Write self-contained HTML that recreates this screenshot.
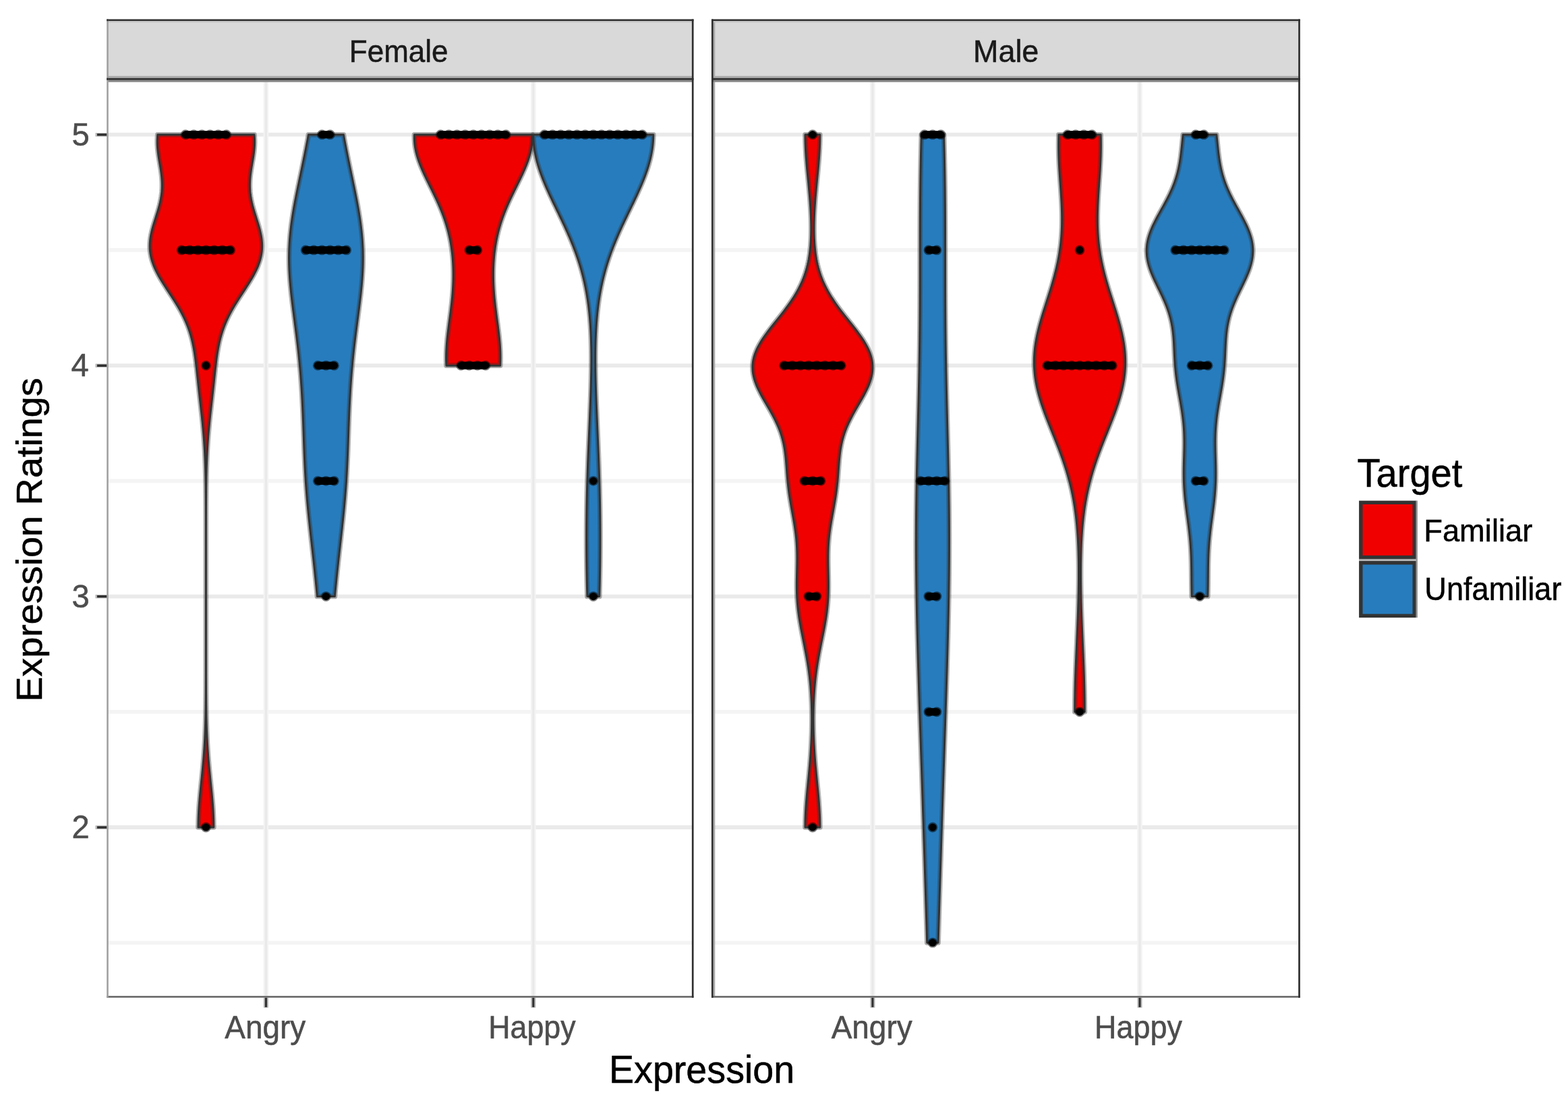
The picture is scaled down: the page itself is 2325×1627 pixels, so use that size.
<!DOCTYPE html>
<html><head><meta charset="utf-8"><title>Expression Ratings by Target</title>
<style>
html,body{margin:0;padding:0;background:#fff;}
body{width:2325px;height:1627px;overflow:hidden;}
svg{display:block;}
text{font-family:"Liberation Sans",Arial,Helvetica,sans-serif;}
</style></head><body>
<svg width="2325" height="1627" viewBox="0 0 2325 1627">
<rect width="2325" height="1627" fill="#fff"/>
<g fill="none">
<rect x="159.50" y="29.90" width="867.70" height="87.30" fill="#d9d9d9"/>
<path d="M159.50 1398.21H1027.20" stroke="#f4f4f4" stroke-width="5.60"/>
<path d="M159.50 1055.78H1027.20" stroke="#f4f4f4" stroke-width="5.60"/>
<path d="M159.50 713.35H1027.20" stroke="#f4f4f4" stroke-width="5.60"/>
<path d="M159.50 370.91H1027.20" stroke="#f4f4f4" stroke-width="5.60"/>
<path d="M159.50 1226.99H1027.20" stroke="#eaeaea" stroke-width="5.80"/>
<path d="M159.50 884.56H1027.20" stroke="#eaeaea" stroke-width="5.80"/>
<path d="M159.50 542.13H1027.20" stroke="#eaeaea" stroke-width="5.80"/>
<path d="M159.50 199.70H1027.20" stroke="#eaeaea" stroke-width="5.80"/>
<path d="M394.40 117.20V1478.40" stroke="#f3f3f3" stroke-width="7.50"/>
<path d="M394.40 117.20V1478.40" stroke="#e9e9e9" stroke-width="3.20"/>
<path d="M790.80 117.20V1478.40" stroke="#f3f3f3" stroke-width="7.50"/>
<path d="M790.80 117.20V1478.40" stroke="#e9e9e9" stroke-width="3.20"/>
<defs><path id="vFAF" d="M293.97,1226.99 L293.99,1222.96 L294.05,1218.93 L294.15,1214.90 L294.30,1210.88 L294.48,1206.85 L294.69,1202.82 L294.94,1198.79 L295.22,1194.76 L295.53,1190.73 L295.87,1186.70 L296.22,1182.68 L296.60,1178.65 L296.99,1174.62 L297.39,1170.59 L297.80,1166.56 L298.21,1162.53 L298.63,1158.50 L299.05,1154.48 L299.46,1150.45 L299.86,1146.42 L300.26,1142.39 L300.65,1138.36 L301.02,1134.33 L301.38,1130.30 L301.72,1126.28 L302.04,1122.25 L302.35,1118.22 L302.64,1114.19 L302.91,1110.16 L303.16,1106.13 L303.40,1102.10 L303.61,1098.08 L303.81,1094.05 L303.99,1090.02 L304.16,1085.99 L304.31,1081.96 L304.44,1077.93 L304.57,1073.90 L304.67,1069.88 L304.77,1065.85 L304.86,1061.82 L304.93,1057.79 L305.00,1053.76 L305.06,1049.73 L305.11,1045.70 L305.15,1041.67 L305.19,1037.65 L305.22,1033.62 L305.25,1029.59 L305.28,1025.56 L305.30,1021.53 L305.32,1017.50 L305.33,1013.47 L305.34,1009.45 L305.35,1005.42 L305.36,1001.39 L305.37,997.36 L305.37,993.33 L305.38,989.30 L305.38,985.27 L305.39,981.25 L305.39,977.22 L305.39,973.19 L305.39,969.16 L305.39,965.13 L305.40,961.10 L305.40,957.07 L305.40,953.05 L305.40,949.02 L305.40,944.99 L305.40,940.96 L305.40,936.93 L305.40,932.90 L305.40,928.87 L305.40,924.85 L305.40,920.82 L305.40,916.79 L305.40,912.76 L305.40,908.73 L305.40,904.70 L305.40,900.67 L305.40,896.65 L305.40,892.62 L305.40,888.59 L305.40,884.56 L305.40,880.53 L305.40,876.50 L305.40,872.47 L305.40,868.45 L305.40,864.42 L305.40,860.39 L305.40,856.36 L305.40,852.33 L305.40,848.30 L305.40,844.27 L305.40,840.25 L305.40,836.22 L305.40,832.19 L305.40,828.16 L305.40,824.13 L305.40,820.10 L305.40,816.07 L305.40,812.05 L305.40,808.02 L305.39,803.99 L305.39,799.96 L305.39,795.93 L305.39,791.90 L305.39,787.87 L305.38,783.85 L305.38,779.82 L305.37,775.79 L305.37,771.76 L305.36,767.73 L305.35,763.70 L305.34,759.67 L305.33,755.65 L305.32,751.62 L305.30,747.59 L305.28,743.56 L305.25,739.53 L305.22,735.50 L305.19,731.47 L305.15,727.45 L305.11,723.42 L305.06,719.39 L305.00,715.36 L304.93,711.33 L304.86,707.30 L304.77,703.27 L304.67,699.24 L304.57,695.22 L304.44,691.19 L304.31,687.16 L304.16,683.13 L303.99,679.10 L303.81,675.07 L303.61,671.04 L303.39,667.02 L303.16,662.99 L302.90,658.96 L302.63,654.93 L302.34,650.90 L302.03,646.87 L301.70,642.84 L301.35,638.82 L300.99,634.79 L300.60,630.76 L300.21,626.73 L299.80,622.70 L299.38,618.67 L298.94,614.64 L298.50,610.62 L298.05,606.59 L297.60,602.56 L297.14,598.53 L296.69,594.50 L296.23,590.47 L295.77,586.44 L295.32,582.42 L294.88,578.39 L294.44,574.36 L294.00,570.33 L293.57,566.30 L293.14,562.27 L292.71,558.24 L292.28,554.22 L291.84,550.19 L291.40,546.16 L290.94,542.13 L290.46,538.10 L289.96,534.07 L289.43,530.04 L288.85,526.02 L288.22,521.99 L287.54,517.96 L286.79,513.93 L285.97,509.90 L285.07,505.87 L284.07,501.84 L282.98,497.82 L281.77,493.79 L280.46,489.76 L279.03,485.73 L277.48,481.70 L275.80,477.67 L274.00,473.64 L272.08,469.62 L270.03,465.59 L267.87,461.56 L265.61,457.53 L263.25,453.50 L260.80,449.47 L258.27,445.44 L255.69,441.42 L253.08,437.39 L250.44,433.36 L247.80,429.33 L245.18,425.30 L242.60,421.27 L240.10,417.24 L237.68,413.22 L235.37,409.19 L233.19,405.16 L231.17,401.13 L229.32,397.10 L227.65,393.07 L226.19,389.04 L224.94,385.02 L223.92,380.99 L223.12,376.96 L222.56,372.93 L222.22,368.90 L222.12,364.87 L222.23,360.84 L222.55,356.81 L223.06,352.79 L223.75,348.76 L224.60,344.73 L225.58,340.70 L226.67,336.67 L227.86,332.64 L229.10,328.61 L230.38,324.59 L231.66,320.56 L232.93,316.53 L234.16,312.50 L235.32,308.47 L236.40,304.44 L237.37,300.41 L238.23,296.39 L238.94,292.36 L239.52,288.33 L239.95,284.30 L240.23,280.27 L240.35,276.24 L240.33,272.21 L240.17,268.19 L239.88,264.16 L239.48,260.13 L238.98,256.10 L238.40,252.07 L237.76,248.04 L237.08,244.01 L236.40,239.99 L235.72,235.96 L235.08,231.93 L234.50,227.90 L234.00,223.87 L233.61,219.84 L233.33,215.81 L233.20,211.79 L233.22,207.76 L233.42,203.73 L233.79,199.70 L377.01,199.70 L377.38,203.73 L377.58,207.76 L377.60,211.79 L377.47,215.81 L377.19,219.84 L376.80,223.87 L376.30,227.90 L375.72,231.93 L375.08,235.96 L374.40,239.99 L373.72,244.01 L373.04,248.04 L372.40,252.07 L371.82,256.10 L371.32,260.13 L370.92,264.16 L370.63,268.19 L370.47,272.21 L370.45,276.24 L370.57,280.27 L370.85,284.30 L371.28,288.33 L371.86,292.36 L372.57,296.39 L373.43,300.41 L374.40,304.44 L375.48,308.47 L376.64,312.50 L377.87,316.53 L379.14,320.56 L380.42,324.59 L381.70,328.61 L382.94,332.64 L384.13,336.67 L385.22,340.70 L386.20,344.73 L387.05,348.76 L387.74,352.79 L388.25,356.81 L388.57,360.84 L388.68,364.87 L388.58,368.90 L388.24,372.93 L387.68,376.96 L386.88,380.99 L385.86,385.02 L384.61,389.04 L383.15,393.07 L381.48,397.10 L379.63,401.13 L377.61,405.16 L375.43,409.19 L373.12,413.22 L370.70,417.24 L368.20,421.27 L365.62,425.30 L363.00,429.33 L360.36,433.36 L357.72,437.39 L355.11,441.42 L352.53,445.44 L350.00,449.47 L347.55,453.50 L345.19,457.53 L342.93,461.56 L340.77,465.59 L338.72,469.62 L336.80,473.64 L335.00,477.67 L333.32,481.70 L331.77,485.73 L330.34,489.76 L329.03,493.79 L327.82,497.82 L326.73,501.84 L325.73,505.87 L324.83,509.90 L324.01,513.93 L323.26,517.96 L322.58,521.99 L321.95,526.02 L321.37,530.04 L320.84,534.07 L320.34,538.10 L319.86,542.13 L319.40,546.16 L318.96,550.19 L318.52,554.22 L318.09,558.24 L317.66,562.27 L317.23,566.30 L316.80,570.33 L316.36,574.36 L315.92,578.39 L315.48,582.42 L315.03,586.44 L314.57,590.47 L314.11,594.50 L313.66,598.53 L313.20,602.56 L312.75,606.59 L312.30,610.62 L311.86,614.64 L311.42,618.67 L311.00,622.70 L310.59,626.73 L310.20,630.76 L309.81,634.79 L309.45,638.82 L309.10,642.84 L308.77,646.87 L308.46,650.90 L308.17,654.93 L307.90,658.96 L307.64,662.99 L307.41,667.02 L307.19,671.04 L306.99,675.07 L306.81,679.10 L306.64,683.13 L306.49,687.16 L306.36,691.19 L306.23,695.22 L306.13,699.24 L306.03,703.27 L305.94,707.30 L305.87,711.33 L305.80,715.36 L305.74,719.39 L305.69,723.42 L305.65,727.45 L305.61,731.47 L305.58,735.50 L305.55,739.53 L305.52,743.56 L305.50,747.59 L305.48,751.62 L305.47,755.65 L305.46,759.67 L305.45,763.70 L305.44,767.73 L305.43,771.76 L305.43,775.79 L305.42,779.82 L305.42,783.85 L305.41,787.87 L305.41,791.90 L305.41,795.93 L305.41,799.96 L305.41,803.99 L305.40,808.02 L305.40,812.05 L305.40,816.07 L305.40,820.10 L305.40,824.13 L305.40,828.16 L305.40,832.19 L305.40,836.22 L305.40,840.25 L305.40,844.27 L305.40,848.30 L305.40,852.33 L305.40,856.36 L305.40,860.39 L305.40,864.42 L305.40,868.45 L305.40,872.47 L305.40,876.50 L305.40,880.53 L305.40,884.56 L305.40,888.59 L305.40,892.62 L305.40,896.65 L305.40,900.67 L305.40,904.70 L305.40,908.73 L305.40,912.76 L305.40,916.79 L305.40,920.82 L305.40,924.85 L305.40,928.87 L305.40,932.90 L305.40,936.93 L305.40,940.96 L305.40,944.99 L305.40,949.02 L305.40,953.05 L305.40,957.07 L305.40,961.10 L305.41,965.13 L305.41,969.16 L305.41,973.19 L305.41,977.22 L305.41,981.25 L305.42,985.27 L305.42,989.30 L305.43,993.33 L305.43,997.36 L305.44,1001.39 L305.45,1005.42 L305.46,1009.45 L305.47,1013.47 L305.48,1017.50 L305.50,1021.53 L305.52,1025.56 L305.55,1029.59 L305.58,1033.62 L305.61,1037.65 L305.65,1041.67 L305.69,1045.70 L305.74,1049.73 L305.80,1053.76 L305.87,1057.79 L305.94,1061.82 L306.03,1065.85 L306.13,1069.88 L306.23,1073.90 L306.36,1077.93 L306.49,1081.96 L306.64,1085.99 L306.81,1090.02 L306.99,1094.05 L307.19,1098.08 L307.40,1102.10 L307.64,1106.13 L307.89,1110.16 L308.16,1114.19 L308.45,1118.22 L308.76,1122.25 L309.08,1126.28 L309.42,1130.30 L309.78,1134.33 L310.15,1138.36 L310.54,1142.39 L310.94,1146.42 L311.34,1150.45 L311.75,1154.48 L312.17,1158.50 L312.59,1162.53 L313.00,1166.56 L313.41,1170.59 L313.81,1174.62 L314.20,1178.65 L314.58,1182.68 L314.93,1186.70 L315.27,1190.73 L315.58,1194.76 L315.86,1198.79 L316.11,1202.82 L316.32,1206.85 L316.50,1210.88 L316.65,1214.90 L316.75,1218.93 L316.81,1222.96 L316.83,1226.99 Z"/></defs>
<use href="#vFAF" fill="#f10000"/>
<use href="#vFAF" fill="none" stroke="#333333" stroke-opacity="0.38" stroke-width="7.60" stroke-linejoin="round"/>
<use href="#vFAF" fill="none" stroke="#333333" stroke-width="3.00" stroke-linejoin="round"/>
<defs><path id="vFAU" d="M470.38,884.56 L470.13,881.87 L469.87,879.19 L469.62,876.50 L469.36,873.82 L469.10,871.13 L468.84,868.45 L468.57,865.76 L468.30,863.07 L468.03,860.39 L467.76,857.70 L467.49,855.02 L467.21,852.33 L466.93,849.65 L466.65,846.96 L466.36,844.27 L466.08,841.59 L465.79,838.90 L465.50,836.22 L465.21,833.53 L464.91,830.85 L464.62,828.16 L464.32,825.47 L464.02,822.79 L463.72,820.10 L463.42,817.42 L463.12,814.73 L462.82,812.05 L462.52,809.36 L462.21,806.67 L461.91,803.99 L461.61,801.30 L461.31,798.62 L461.01,795.93 L460.71,793.25 L460.41,790.56 L460.11,787.87 L459.81,785.19 L459.52,782.50 L459.23,779.82 L458.94,777.13 L458.65,774.45 L458.37,771.76 L458.09,769.07 L457.81,766.39 L457.53,763.70 L457.26,761.02 L457.00,758.33 L456.74,755.65 L456.48,752.96 L456.23,750.27 L455.98,747.59 L455.74,744.90 L455.50,742.22 L455.27,739.53 L455.04,736.85 L454.82,734.16 L454.60,731.47 L454.39,728.79 L454.19,726.10 L453.99,723.42 L453.79,720.73 L453.61,718.05 L453.42,715.36 L453.25,712.67 L453.08,709.99 L452.91,707.30 L452.75,704.62 L452.60,701.93 L452.45,699.24 L452.31,696.56 L452.17,693.87 L452.03,691.19 L451.90,688.50 L451.78,685.82 L451.65,683.13 L451.54,680.44 L451.42,677.76 L451.31,675.07 L451.20,672.39 L451.10,669.70 L450.99,667.02 L450.89,664.33 L450.80,661.64 L450.70,658.96 L450.60,656.27 L450.51,653.59 L450.42,650.90 L450.32,648.22 L450.23,645.53 L450.14,642.84 L450.05,640.16 L449.95,637.47 L449.86,634.79 L449.76,632.10 L449.67,629.42 L449.57,626.73 L449.47,624.04 L449.36,621.36 L449.26,618.67 L449.15,615.99 L449.04,613.30 L448.92,610.62 L448.81,607.93 L448.69,605.24 L448.56,602.56 L448.43,599.87 L448.30,597.19 L448.17,594.50 L448.02,591.82 L447.88,589.13 L447.73,586.44 L447.57,583.76 L447.41,581.07 L447.25,578.39 L447.08,575.70 L446.90,573.02 L446.72,570.33 L446.53,567.64 L446.34,564.96 L446.14,562.27 L445.94,559.59 L445.73,556.90 L445.51,554.22 L445.29,551.53 L445.07,548.84 L444.83,546.16 L444.59,543.47 L444.35,540.79 L444.09,538.10 L443.84,535.42 L443.57,532.73 L443.30,530.04 L443.03,527.36 L442.75,524.67 L442.46,521.99 L442.17,519.30 L441.87,516.62 L441.57,513.93 L441.26,511.24 L440.94,508.56 L440.62,505.87 L440.30,503.19 L439.97,500.50 L439.64,497.82 L439.31,495.13 L438.97,492.44 L438.62,489.76 L438.28,487.07 L437.93,484.39 L437.58,481.70 L437.23,479.02 L436.88,476.33 L436.52,473.64 L436.17,470.96 L435.82,468.27 L435.47,465.59 L435.12,462.90 L434.77,460.22 L434.42,457.53 L434.08,454.84 L433.74,452.16 L433.41,449.47 L433.08,446.79 L432.76,444.10 L432.44,441.42 L432.13,438.73 L431.83,436.04 L431.54,433.36 L431.26,430.67 L430.99,427.99 L430.72,425.30 L430.47,422.62 L430.24,419.93 L430.01,417.24 L429.80,414.56 L429.60,411.87 L429.42,409.19 L429.26,406.50 L429.11,403.82 L428.97,401.13 L428.85,398.44 L428.75,395.76 L428.67,393.07 L428.61,390.39 L428.56,387.70 L428.54,385.02 L428.53,382.33 L428.54,379.64 L428.58,376.96 L428.63,374.27 L428.70,371.59 L428.79,368.90 L428.91,366.21 L429.04,363.53 L429.19,360.84 L429.36,358.16 L429.55,355.47 L429.77,352.79 L430.00,350.10 L430.25,347.41 L430.52,344.73 L430.80,342.04 L431.11,339.36 L431.43,336.67 L431.77,333.99 L432.12,331.30 L432.49,328.61 L432.88,325.93 L433.28,323.24 L433.70,320.56 L434.13,317.87 L434.57,315.19 L435.02,312.50 L435.49,309.81 L435.97,307.13 L436.46,304.44 L436.95,301.76 L437.46,299.07 L437.97,296.39 L438.49,293.70 L439.02,291.01 L439.56,288.33 L440.10,285.64 L440.64,282.96 L441.19,280.27 L441.74,277.59 L442.30,274.90 L442.86,272.21 L443.42,269.53 L443.98,266.84 L444.54,264.16 L445.10,261.47 L445.67,258.79 L446.23,256.10 L446.79,253.41 L447.35,250.73 L447.91,248.04 L448.47,245.36 L449.02,242.67 L449.57,239.99 L450.12,237.30 L450.67,234.61 L451.21,231.93 L451.75,229.24 L452.28,226.56 L452.82,223.87 L453.34,221.19 L453.87,218.50 L454.39,215.81 L454.91,213.13 L455.42,210.44 L455.93,207.76 L456.43,205.07 L456.93,202.39 L457.42,199.70 L509.38,199.70 L509.87,202.39 L510.37,205.07 L510.87,207.76 L511.38,210.44 L511.89,213.13 L512.41,215.81 L512.93,218.50 L513.46,221.19 L513.98,223.87 L514.52,226.56 L515.05,229.24 L515.59,231.93 L516.13,234.61 L516.68,237.30 L517.23,239.99 L517.78,242.67 L518.33,245.36 L518.89,248.04 L519.45,250.73 L520.01,253.41 L520.57,256.10 L521.13,258.79 L521.70,261.47 L522.26,264.16 L522.82,266.84 L523.38,269.53 L523.94,272.21 L524.50,274.90 L525.06,277.59 L525.61,280.27 L526.16,282.96 L526.70,285.64 L527.24,288.33 L527.78,291.01 L528.31,293.70 L528.83,296.39 L529.34,299.07 L529.85,301.76 L530.34,304.44 L530.83,307.13 L531.31,309.81 L531.78,312.50 L532.23,315.19 L532.67,317.87 L533.10,320.56 L533.52,323.24 L533.92,325.93 L534.31,328.61 L534.68,331.30 L535.03,333.99 L535.37,336.67 L535.69,339.36 L536.00,342.04 L536.28,344.73 L536.55,347.41 L536.80,350.10 L537.03,352.79 L537.25,355.47 L537.44,358.16 L537.61,360.84 L537.76,363.53 L537.89,366.21 L538.01,368.90 L538.10,371.59 L538.17,374.27 L538.22,376.96 L538.26,379.64 L538.27,382.33 L538.26,385.02 L538.24,387.70 L538.19,390.39 L538.13,393.07 L538.05,395.76 L537.95,398.44 L537.83,401.13 L537.69,403.82 L537.54,406.50 L537.38,409.19 L537.20,411.87 L537.00,414.56 L536.79,417.24 L536.56,419.93 L536.33,422.62 L536.08,425.30 L535.81,427.99 L535.54,430.67 L535.26,433.36 L534.97,436.04 L534.67,438.73 L534.36,441.42 L534.04,444.10 L533.72,446.79 L533.39,449.47 L533.06,452.16 L532.72,454.84 L532.38,457.53 L532.03,460.22 L531.68,462.90 L531.33,465.59 L530.98,468.27 L530.63,470.96 L530.28,473.64 L529.92,476.33 L529.57,479.02 L529.22,481.70 L528.87,484.39 L528.52,487.07 L528.18,489.76 L527.83,492.44 L527.49,495.13 L527.16,497.82 L526.83,500.50 L526.50,503.19 L526.18,505.87 L525.86,508.56 L525.54,511.24 L525.23,513.93 L524.93,516.62 L524.63,519.30 L524.34,521.99 L524.05,524.67 L523.77,527.36 L523.50,530.04 L523.23,532.73 L522.96,535.42 L522.71,538.10 L522.45,540.79 L522.21,543.47 L521.97,546.16 L521.73,548.84 L521.51,551.53 L521.29,554.22 L521.07,556.90 L520.86,559.59 L520.66,562.27 L520.46,564.96 L520.27,567.64 L520.08,570.33 L519.90,573.02 L519.72,575.70 L519.55,578.39 L519.39,581.07 L519.23,583.76 L519.07,586.44 L518.92,589.13 L518.78,591.82 L518.63,594.50 L518.50,597.19 L518.37,599.87 L518.24,602.56 L518.11,605.24 L517.99,607.93 L517.88,610.62 L517.76,613.30 L517.65,615.99 L517.54,618.67 L517.44,621.36 L517.33,624.04 L517.23,626.73 L517.13,629.42 L517.04,632.10 L516.94,634.79 L516.85,637.47 L516.75,640.16 L516.66,642.84 L516.57,645.53 L516.48,648.22 L516.38,650.90 L516.29,653.59 L516.20,656.27 L516.10,658.96 L516.00,661.64 L515.91,664.33 L515.81,667.02 L515.70,669.70 L515.60,672.39 L515.49,675.07 L515.38,677.76 L515.26,680.44 L515.15,683.13 L515.02,685.82 L514.90,688.50 L514.77,691.19 L514.63,693.87 L514.49,696.56 L514.35,699.24 L514.20,701.93 L514.05,704.62 L513.89,707.30 L513.72,709.99 L513.55,712.67 L513.38,715.36 L513.19,718.05 L513.01,720.73 L512.81,723.42 L512.61,726.10 L512.41,728.79 L512.20,731.47 L511.98,734.16 L511.76,736.85 L511.53,739.53 L511.30,742.22 L511.06,744.90 L510.82,747.59 L510.57,750.27 L510.32,752.96 L510.06,755.65 L509.80,758.33 L509.54,761.02 L509.27,763.70 L508.99,766.39 L508.71,769.07 L508.43,771.76 L508.15,774.45 L507.86,777.13 L507.57,779.82 L507.28,782.50 L506.99,785.19 L506.69,787.87 L506.39,790.56 L506.09,793.25 L505.79,795.93 L505.49,798.62 L505.19,801.30 L504.89,803.99 L504.59,806.67 L504.28,809.36 L503.98,812.05 L503.68,814.73 L503.38,817.42 L503.08,820.10 L502.78,822.79 L502.48,825.47 L502.18,828.16 L501.89,830.85 L501.59,833.53 L501.30,836.22 L501.01,838.90 L500.72,841.59 L500.44,844.27 L500.15,846.96 L499.87,849.65 L499.59,852.33 L499.31,855.02 L499.04,857.70 L498.77,860.39 L498.50,863.07 L498.23,865.76 L497.96,868.45 L497.70,871.13 L497.44,873.82 L497.18,876.50 L496.93,879.19 L496.67,881.87 L496.42,884.56 Z"/></defs>
<use href="#vFAU" fill="#277cbd"/>
<use href="#vFAU" fill="none" stroke="#333333" stroke-opacity="0.38" stroke-width="7.60" stroke-linejoin="round"/>
<use href="#vFAU" fill="none" stroke="#333333" stroke-width="3.00" stroke-linejoin="round"/>
<defs><path id="vFHF" d="M661.87,542.13 L661.81,540.79 L661.75,539.44 L661.70,538.10 L661.66,536.76 L661.62,535.42 L661.60,534.07 L661.58,532.73 L661.57,531.39 L661.57,530.04 L661.58,528.70 L661.60,527.36 L661.62,526.02 L661.65,524.67 L661.69,523.33 L661.73,521.99 L661.78,520.64 L661.84,519.30 L661.91,517.96 L661.98,516.62 L662.06,515.27 L662.14,513.93 L662.24,512.59 L662.33,511.24 L662.44,509.90 L662.55,508.56 L662.66,507.22 L662.78,505.87 L662.91,504.53 L663.03,503.19 L663.17,501.84 L663.31,500.50 L663.45,499.16 L663.60,497.82 L663.75,496.47 L663.90,495.13 L664.06,493.79 L664.22,492.44 L664.38,491.10 L664.55,489.76 L664.72,488.42 L664.89,487.07 L665.06,485.73 L665.23,484.39 L665.41,483.04 L665.58,481.70 L665.76,480.36 L665.94,479.02 L666.12,477.67 L666.30,476.33 L666.48,474.99 L666.66,473.64 L666.84,472.30 L667.02,470.96 L667.20,469.62 L667.38,468.27 L667.55,466.93 L667.73,465.59 L667.90,464.24 L668.08,462.90 L668.25,461.56 L668.42,460.22 L668.59,458.87 L668.75,457.53 L668.91,456.19 L669.07,454.84 L669.23,453.50 L669.39,452.16 L669.54,450.82 L669.69,449.47 L669.83,448.13 L669.98,446.79 L670.11,445.44 L670.25,444.10 L670.38,442.76 L670.51,441.42 L670.63,440.07 L670.75,438.73 L670.87,437.39 L670.98,436.04 L671.08,434.70 L671.19,433.36 L671.28,432.02 L671.38,430.67 L671.46,429.33 L671.55,427.99 L671.63,426.64 L671.70,425.30 L671.77,423.96 L671.83,422.62 L671.89,421.27 L671.94,419.93 L671.99,418.59 L672.04,417.24 L672.07,415.90 L672.11,414.56 L672.13,413.22 L672.15,411.87 L672.17,410.53 L672.18,409.19 L672.18,407.84 L672.18,406.50 L672.17,405.16 L672.16,403.82 L672.14,402.47 L672.12,401.13 L672.09,399.79 L672.05,398.44 L672.01,397.10 L671.96,395.76 L671.90,394.42 L671.84,393.07 L671.78,391.73 L671.70,390.39 L671.62,389.04 L671.53,387.70 L671.44,386.36 L671.34,385.02 L671.24,383.67 L671.12,382.33 L671.00,380.99 L670.88,379.64 L670.74,378.30 L670.60,376.96 L670.46,375.62 L670.30,374.27 L670.14,372.93 L669.97,371.59 L669.79,370.24 L669.61,368.90 L669.42,367.56 L669.22,366.21 L669.02,364.87 L668.80,363.53 L668.58,362.19 L668.35,360.84 L668.11,359.50 L667.87,358.16 L667.62,356.81 L667.35,355.47 L667.09,354.13 L666.81,352.79 L666.52,351.44 L666.23,350.10 L665.92,348.76 L665.61,347.41 L665.29,346.07 L664.97,344.73 L664.63,343.39 L664.28,342.04 L663.93,340.70 L663.56,339.36 L663.19,338.01 L662.81,336.67 L662.42,335.33 L662.02,333.99 L661.62,332.64 L661.20,331.30 L660.77,329.96 L660.34,328.61 L659.90,327.27 L659.45,325.93 L658.99,324.59 L658.52,323.24 L658.04,321.90 L657.55,320.56 L657.06,319.21 L656.55,317.87 L656.04,316.53 L655.52,315.19 L654.99,313.84 L654.46,312.50 L653.91,311.16 L653.36,309.81 L652.80,308.47 L652.24,307.13 L651.66,305.79 L651.08,304.44 L650.49,303.10 L649.90,301.76 L649.30,300.41 L648.69,299.07 L648.08,297.73 L647.46,296.39 L646.84,295.04 L646.21,293.70 L645.57,292.36 L644.94,291.01 L644.29,289.67 L643.65,288.33 L643.00,286.99 L642.34,285.64 L641.69,284.30 L641.03,282.96 L640.37,281.61 L639.71,280.27 L639.05,278.93 L638.38,277.59 L637.72,276.24 L637.05,274.90 L636.39,273.56 L635.73,272.21 L635.07,270.87 L634.41,269.53 L633.75,268.19 L633.10,266.84 L632.45,265.50 L631.80,264.16 L631.16,262.81 L630.52,261.47 L629.88,260.13 L629.26,258.79 L628.64,257.44 L628.02,256.10 L627.42,254.76 L626.82,253.41 L626.23,252.07 L625.64,250.73 L625.07,249.39 L624.51,248.04 L623.96,246.70 L623.42,245.36 L622.89,244.01 L622.37,242.67 L621.86,241.33 L621.37,239.99 L620.89,238.64 L620.42,237.30 L619.97,235.96 L619.53,234.61 L619.11,233.27 L618.70,231.93 L618.31,230.59 L617.93,229.24 L617.58,227.90 L617.24,226.56 L616.91,225.21 L616.61,223.87 L616.32,222.53 L616.05,221.19 L615.80,219.84 L615.57,218.50 L615.36,217.16 L615.17,215.81 L614.99,214.47 L614.84,213.13 L614.71,211.79 L614.60,210.44 L614.51,209.10 L614.44,207.76 L614.39,206.41 L614.37,205.07 L614.36,203.73 L614.38,202.39 L614.42,201.04 L614.48,199.70 L789.12,199.70 L789.18,201.04 L789.22,202.39 L789.24,203.73 L789.23,205.07 L789.21,206.41 L789.16,207.76 L789.09,209.10 L789.00,210.44 L788.89,211.79 L788.76,213.13 L788.61,214.47 L788.43,215.81 L788.24,217.16 L788.03,218.50 L787.80,219.84 L787.55,221.19 L787.28,222.53 L786.99,223.87 L786.69,225.21 L786.36,226.56 L786.02,227.90 L785.67,229.24 L785.29,230.59 L784.90,231.93 L784.49,233.27 L784.07,234.61 L783.63,235.96 L783.18,237.30 L782.71,238.64 L782.23,239.99 L781.74,241.33 L781.23,242.67 L780.71,244.01 L780.18,245.36 L779.64,246.70 L779.09,248.04 L778.53,249.39 L777.96,250.73 L777.37,252.07 L776.78,253.41 L776.18,254.76 L775.58,256.10 L774.96,257.44 L774.34,258.79 L773.72,260.13 L773.08,261.47 L772.44,262.81 L771.80,264.16 L771.15,265.50 L770.50,266.84 L769.85,268.19 L769.19,269.53 L768.53,270.87 L767.87,272.21 L767.21,273.56 L766.55,274.90 L765.88,276.24 L765.22,277.59 L764.55,278.93 L763.89,280.27 L763.23,281.61 L762.57,282.96 L761.91,284.30 L761.26,285.64 L760.60,286.99 L759.95,288.33 L759.31,289.67 L758.66,291.01 L758.03,292.36 L757.39,293.70 L756.76,295.04 L756.14,296.39 L755.52,297.73 L754.91,299.07 L754.30,300.41 L753.70,301.76 L753.11,303.10 L752.52,304.44 L751.94,305.79 L751.36,307.13 L750.80,308.47 L750.24,309.81 L749.69,311.16 L749.14,312.50 L748.61,313.84 L748.08,315.19 L747.56,316.53 L747.05,317.87 L746.54,319.21 L746.05,320.56 L745.56,321.90 L745.08,323.24 L744.61,324.59 L744.15,325.93 L743.70,327.27 L743.26,328.61 L742.83,329.96 L742.40,331.30 L741.98,332.64 L741.58,333.99 L741.18,335.33 L740.79,336.67 L740.41,338.01 L740.04,339.36 L739.67,340.70 L739.32,342.04 L738.97,343.39 L738.63,344.73 L738.31,346.07 L737.99,347.41 L737.68,348.76 L737.37,350.10 L737.08,351.44 L736.79,352.79 L736.51,354.13 L736.25,355.47 L735.98,356.81 L735.73,358.16 L735.49,359.50 L735.25,360.84 L735.02,362.19 L734.80,363.53 L734.58,364.87 L734.38,366.21 L734.18,367.56 L733.99,368.90 L733.81,370.24 L733.63,371.59 L733.46,372.93 L733.30,374.27 L733.14,375.62 L733.00,376.96 L732.86,378.30 L732.72,379.64 L732.60,380.99 L732.48,382.33 L732.36,383.67 L732.26,385.02 L732.16,386.36 L732.07,387.70 L731.98,389.04 L731.90,390.39 L731.82,391.73 L731.76,393.07 L731.70,394.42 L731.64,395.76 L731.59,397.10 L731.55,398.44 L731.51,399.79 L731.48,401.13 L731.46,402.47 L731.44,403.82 L731.43,405.16 L731.42,406.50 L731.42,407.84 L731.42,409.19 L731.43,410.53 L731.45,411.87 L731.47,413.22 L731.49,414.56 L731.53,415.90 L731.56,417.24 L731.61,418.59 L731.66,419.93 L731.71,421.27 L731.77,422.62 L731.83,423.96 L731.90,425.30 L731.97,426.64 L732.05,427.99 L732.14,429.33 L732.22,430.67 L732.32,432.02 L732.41,433.36 L732.52,434.70 L732.62,436.04 L732.73,437.39 L732.85,438.73 L732.97,440.07 L733.09,441.42 L733.22,442.76 L733.35,444.10 L733.49,445.44 L733.62,446.79 L733.77,448.13 L733.91,449.47 L734.06,450.82 L734.21,452.16 L734.37,453.50 L734.53,454.84 L734.69,456.19 L734.85,457.53 L735.01,458.87 L735.18,460.22 L735.35,461.56 L735.52,462.90 L735.70,464.24 L735.87,465.59 L736.05,466.93 L736.22,468.27 L736.40,469.62 L736.58,470.96 L736.76,472.30 L736.94,473.64 L737.12,474.99 L737.30,476.33 L737.48,477.67 L737.66,479.02 L737.84,480.36 L738.02,481.70 L738.19,483.04 L738.37,484.39 L738.54,485.73 L738.71,487.07 L738.88,488.42 L739.05,489.76 L739.22,491.10 L739.38,492.44 L739.54,493.79 L739.70,495.13 L739.85,496.47 L740.00,497.82 L740.15,499.16 L740.29,500.50 L740.43,501.84 L740.57,503.19 L740.69,504.53 L740.82,505.87 L740.94,507.22 L741.05,508.56 L741.16,509.90 L741.27,511.24 L741.36,512.59 L741.46,513.93 L741.54,515.27 L741.62,516.62 L741.69,517.96 L741.76,519.30 L741.82,520.64 L741.87,521.99 L741.91,523.33 L741.95,524.67 L741.98,526.02 L742.00,527.36 L742.02,528.70 L742.03,530.04 L742.03,531.39 L742.02,532.73 L742.00,534.07 L741.98,535.42 L741.94,536.76 L741.90,538.10 L741.85,539.44 L741.79,540.79 L741.73,542.13 Z"/></defs>
<use href="#vFHF" fill="#f10000"/>
<use href="#vFHF" fill="none" stroke="#333333" stroke-opacity="0.38" stroke-width="7.60" stroke-linejoin="round"/>
<use href="#vFHF" fill="none" stroke="#333333" stroke-width="3.00" stroke-linejoin="round"/>
<defs><path id="vFHU" d="M870.84,884.56 L870.76,881.87 L870.69,879.19 L870.62,876.50 L870.55,873.82 L870.48,871.13 L870.41,868.45 L870.35,865.76 L870.29,863.07 L870.23,860.39 L870.18,857.70 L870.13,855.02 L870.08,852.33 L870.03,849.65 L869.98,846.96 L869.94,844.27 L869.90,841.59 L869.86,838.90 L869.83,836.22 L869.79,833.53 L869.76,830.85 L869.74,828.16 L869.71,825.47 L869.69,822.79 L869.67,820.10 L869.65,817.42 L869.63,814.73 L869.62,812.05 L869.61,809.36 L869.60,806.67 L869.60,803.99 L869.59,801.30 L869.59,798.62 L869.59,795.93 L869.60,793.25 L869.60,790.56 L869.61,787.87 L869.62,785.19 L869.64,782.50 L869.65,779.82 L869.67,777.13 L869.69,774.45 L869.72,771.76 L869.74,769.07 L869.77,766.39 L869.80,763.70 L869.84,761.02 L869.87,758.33 L869.91,755.65 L869.95,752.96 L869.99,750.27 L870.04,747.59 L870.09,744.90 L870.14,742.22 L870.19,739.53 L870.25,736.85 L870.31,734.16 L870.37,731.47 L870.43,728.79 L870.49,726.10 L870.56,723.42 L870.63,720.73 L870.70,718.05 L870.78,715.36 L870.86,712.67 L870.94,709.99 L871.02,707.30 L871.10,704.62 L871.19,701.93 L871.28,699.24 L871.37,696.56 L871.46,693.87 L871.55,691.19 L871.65,688.50 L871.75,685.82 L871.85,683.13 L871.95,680.44 L872.05,677.76 L872.15,675.07 L872.26,672.39 L872.37,669.70 L872.48,667.02 L872.59,664.33 L872.70,661.64 L872.81,658.96 L872.92,656.27 L873.04,653.59 L873.15,650.90 L873.27,648.22 L873.38,645.53 L873.50,642.84 L873.61,640.16 L873.73,637.47 L873.85,634.79 L873.96,632.10 L874.08,629.42 L874.19,626.73 L874.31,624.04 L874.42,621.36 L874.54,618.67 L874.65,615.99 L874.76,613.30 L874.87,610.62 L874.98,607.93 L875.09,605.24 L875.20,602.56 L875.30,599.87 L875.40,597.19 L875.51,594.50 L875.60,591.82 L875.70,589.13 L875.79,586.44 L875.88,583.76 L875.97,581.07 L876.06,578.39 L876.14,575.70 L876.22,573.02 L876.29,570.33 L876.36,567.64 L876.43,564.96 L876.49,562.27 L876.55,559.59 L876.60,556.90 L876.65,554.22 L876.70,551.53 L876.74,548.84 L876.77,546.16 L876.80,543.47 L876.82,540.79 L876.84,538.10 L876.85,535.42 L876.85,532.73 L876.85,530.04 L876.84,527.36 L876.82,524.67 L876.80,521.99 L876.77,519.30 L876.73,516.62 L876.68,513.93 L876.62,511.24 L876.55,508.56 L876.48,505.87 L876.39,503.19 L876.30,500.50 L876.19,497.82 L876.07,495.13 L875.95,492.44 L875.81,489.76 L875.66,487.07 L875.49,484.39 L875.32,481.70 L875.13,479.02 L874.92,476.33 L874.71,473.64 L874.48,470.96 L874.23,468.27 L873.97,465.59 L873.70,462.90 L873.40,460.22 L873.10,457.53 L872.77,454.84 L872.43,452.16 L872.07,449.47 L871.69,446.79 L871.30,444.10 L870.88,441.42 L870.45,438.73 L869.99,436.04 L869.52,433.36 L869.02,430.67 L868.51,427.99 L867.97,425.30 L867.42,422.62 L866.84,419.93 L866.24,417.24 L865.61,414.56 L864.97,411.87 L864.30,409.19 L863.60,406.50 L862.89,403.82 L862.15,401.13 L861.39,398.44 L860.61,395.76 L859.80,393.07 L858.97,390.39 L858.11,387.70 L857.23,385.02 L856.33,382.33 L855.41,379.64 L854.46,376.96 L853.49,374.27 L852.50,371.59 L851.48,368.90 L850.45,366.21 L849.39,363.53 L848.31,360.84 L847.22,358.16 L846.10,355.47 L844.97,352.79 L843.81,350.10 L842.64,347.41 L841.46,344.73 L840.26,342.04 L839.04,339.36 L837.81,336.67 L836.57,333.99 L835.32,331.30 L834.06,328.61 L832.78,325.93 L831.50,323.24 L830.22,320.56 L828.93,317.87 L827.63,315.19 L826.34,312.50 L825.04,309.81 L823.75,307.13 L822.45,304.44 L821.16,301.76 L819.88,299.07 L818.60,296.39 L817.33,293.70 L816.07,291.01 L814.83,288.33 L813.60,285.64 L812.38,282.96 L811.18,280.27 L810.00,277.59 L808.84,274.90 L807.71,272.21 L806.59,269.53 L805.51,266.84 L804.45,264.16 L803.42,261.47 L802.42,258.79 L801.45,256.10 L800.52,253.41 L799.62,250.73 L798.76,248.04 L797.93,245.36 L797.15,242.67 L796.40,239.99 L795.70,237.30 L795.04,234.61 L794.43,231.93 L793.86,229.24 L793.34,226.56 L792.86,223.87 L792.43,221.19 L792.05,218.50 L791.72,215.81 L791.44,213.13 L791.21,210.44 L791.03,207.76 L790.90,205.07 L790.83,202.39 L790.80,199.70 L968.80,199.70 L968.77,202.39 L968.70,205.07 L968.57,207.76 L968.39,210.44 L968.16,213.13 L967.88,215.81 L967.55,218.50 L967.17,221.19 L966.74,223.87 L966.26,226.56 L965.74,229.24 L965.17,231.93 L964.56,234.61 L963.90,237.30 L963.20,239.99 L962.45,242.67 L961.67,245.36 L960.84,248.04 L959.98,250.73 L959.08,253.41 L958.15,256.10 L957.18,258.79 L956.18,261.47 L955.15,264.16 L954.09,266.84 L953.01,269.53 L951.89,272.21 L950.76,274.90 L949.60,277.59 L948.42,280.27 L947.22,282.96 L946.00,285.64 L944.77,288.33 L943.53,291.01 L942.27,293.70 L941.00,296.39 L939.72,299.07 L938.44,301.76 L937.15,304.44 L935.85,307.13 L934.56,309.81 L933.26,312.50 L931.97,315.19 L930.67,317.87 L929.38,320.56 L928.10,323.24 L926.82,325.93 L925.54,328.61 L924.28,331.30 L923.03,333.99 L921.79,336.67 L920.56,339.36 L919.34,342.04 L918.14,344.73 L916.96,347.41 L915.79,350.10 L914.63,352.79 L913.50,355.47 L912.38,358.16 L911.29,360.84 L910.21,363.53 L909.15,366.21 L908.12,368.90 L907.10,371.59 L906.11,374.27 L905.14,376.96 L904.19,379.64 L903.27,382.33 L902.37,385.02 L901.49,387.70 L900.63,390.39 L899.80,393.07 L898.99,395.76 L898.21,398.44 L897.45,401.13 L896.71,403.82 L896.00,406.50 L895.30,409.19 L894.63,411.87 L893.99,414.56 L893.36,417.24 L892.76,419.93 L892.18,422.62 L891.63,425.30 L891.09,427.99 L890.58,430.67 L890.08,433.36 L889.61,436.04 L889.15,438.73 L888.72,441.42 L888.30,444.10 L887.91,446.79 L887.53,449.47 L887.17,452.16 L886.83,454.84 L886.50,457.53 L886.20,460.22 L885.90,462.90 L885.63,465.59 L885.37,468.27 L885.12,470.96 L884.89,473.64 L884.68,476.33 L884.47,479.02 L884.28,481.70 L884.11,484.39 L883.94,487.07 L883.79,489.76 L883.65,492.44 L883.53,495.13 L883.41,497.82 L883.30,500.50 L883.21,503.19 L883.12,505.87 L883.05,508.56 L882.98,511.24 L882.92,513.93 L882.87,516.62 L882.83,519.30 L882.80,521.99 L882.78,524.67 L882.76,527.36 L882.75,530.04 L882.75,532.73 L882.75,535.42 L882.76,538.10 L882.78,540.79 L882.80,543.47 L882.83,546.16 L882.86,548.84 L882.90,551.53 L882.95,554.22 L883.00,556.90 L883.05,559.59 L883.11,562.27 L883.17,564.96 L883.24,567.64 L883.31,570.33 L883.38,573.02 L883.46,575.70 L883.54,578.39 L883.63,581.07 L883.72,583.76 L883.81,586.44 L883.90,589.13 L884.00,591.82 L884.09,594.50 L884.20,597.19 L884.30,599.87 L884.40,602.56 L884.51,605.24 L884.62,607.93 L884.73,610.62 L884.84,613.30 L884.95,615.99 L885.06,618.67 L885.18,621.36 L885.29,624.04 L885.41,626.73 L885.52,629.42 L885.64,632.10 L885.75,634.79 L885.87,637.47 L885.99,640.16 L886.10,642.84 L886.22,645.53 L886.33,648.22 L886.45,650.90 L886.56,653.59 L886.68,656.27 L886.79,658.96 L886.90,661.64 L887.01,664.33 L887.12,667.02 L887.23,669.70 L887.34,672.39 L887.45,675.07 L887.55,677.76 L887.65,680.44 L887.75,683.13 L887.85,685.82 L887.95,688.50 L888.05,691.19 L888.14,693.87 L888.23,696.56 L888.32,699.24 L888.41,701.93 L888.50,704.62 L888.58,707.30 L888.66,709.99 L888.74,712.67 L888.82,715.36 L888.90,718.05 L888.97,720.73 L889.04,723.42 L889.11,726.10 L889.17,728.79 L889.23,731.47 L889.29,734.16 L889.35,736.85 L889.41,739.53 L889.46,742.22 L889.51,744.90 L889.56,747.59 L889.61,750.27 L889.65,752.96 L889.69,755.65 L889.73,758.33 L889.76,761.02 L889.80,763.70 L889.83,766.39 L889.86,769.07 L889.88,771.76 L889.91,774.45 L889.93,777.13 L889.95,779.82 L889.96,782.50 L889.98,785.19 L889.99,787.87 L890.00,790.56 L890.00,793.25 L890.01,795.93 L890.01,798.62 L890.01,801.30 L890.00,803.99 L890.00,806.67 L889.99,809.36 L889.98,812.05 L889.97,814.73 L889.95,817.42 L889.93,820.10 L889.91,822.79 L889.89,825.47 L889.86,828.16 L889.84,830.85 L889.81,833.53 L889.77,836.22 L889.74,838.90 L889.70,841.59 L889.66,844.27 L889.62,846.96 L889.57,849.65 L889.52,852.33 L889.47,855.02 L889.42,857.70 L889.37,860.39 L889.31,863.07 L889.25,865.76 L889.19,868.45 L889.12,871.13 L889.05,873.82 L888.98,876.50 L888.91,879.19 L888.84,881.87 L888.76,884.56 Z"/></defs>
<use href="#vFHU" fill="#277cbd"/>
<use href="#vFHU" fill="none" stroke="#333333" stroke-opacity="0.38" stroke-width="7.60" stroke-linejoin="round"/>
<use href="#vFHU" fill="none" stroke="#333333" stroke-width="3.00" stroke-linejoin="round"/>
<g fill="#000">
<rect x="269.55" y="194.10" width="71.70" height="11.20" rx="5.60"/><circle cx="275.15" cy="199.70" r="7.40" fill-opacity="0.50"/><circle cx="287.25" cy="199.70" r="7.40" fill-opacity="0.50"/><circle cx="299.35" cy="199.70" r="7.40" fill-opacity="0.50"/><circle cx="311.45" cy="199.70" r="7.40" fill-opacity="0.50"/><circle cx="323.55" cy="199.70" r="7.40" fill-opacity="0.50"/><circle cx="335.65" cy="199.70" r="7.40" fill-opacity="0.50"/><rect x="263.50" y="365.31" width="83.80" height="11.20" rx="5.60"/><circle cx="269.10" cy="370.91" r="7.40" fill-opacity="0.50"/><circle cx="281.20" cy="370.91" r="7.40" fill-opacity="0.50"/><circle cx="293.30" cy="370.91" r="7.40" fill-opacity="0.50"/><circle cx="305.40" cy="370.91" r="7.40" fill-opacity="0.50"/><circle cx="317.50" cy="370.91" r="7.40" fill-opacity="0.50"/><circle cx="329.60" cy="370.91" r="7.40" fill-opacity="0.50"/><circle cx="341.70" cy="370.91" r="7.40" fill-opacity="0.50"/><rect x="299.80" y="536.53" width="11.20" height="11.20" rx="5.60"/><circle cx="305.40" cy="542.13" r="7.40" fill-opacity="0.50"/><rect x="299.80" y="1221.39" width="11.20" height="11.20" rx="5.60"/><circle cx="305.40" cy="1226.99" r="7.40" fill-opacity="0.50"/>
<rect x="471.75" y="194.10" width="23.30" height="11.20" rx="5.60"/><circle cx="477.35" cy="199.70" r="7.40" fill-opacity="0.50"/><circle cx="489.45" cy="199.70" r="7.40" fill-opacity="0.50"/><rect x="447.55" y="365.31" width="71.70" height="11.20" rx="5.60"/><circle cx="453.15" cy="370.91" r="7.40" fill-opacity="0.50"/><circle cx="465.25" cy="370.91" r="7.40" fill-opacity="0.50"/><circle cx="477.35" cy="370.91" r="7.40" fill-opacity="0.50"/><circle cx="489.45" cy="370.91" r="7.40" fill-opacity="0.50"/><circle cx="501.55" cy="370.91" r="7.40" fill-opacity="0.50"/><circle cx="513.65" cy="370.91" r="7.40" fill-opacity="0.50"/><rect x="465.70" y="536.53" width="35.40" height="11.20" rx="5.60"/><circle cx="471.30" cy="542.13" r="7.40" fill-opacity="0.50"/><circle cx="483.40" cy="542.13" r="7.40" fill-opacity="0.50"/><circle cx="495.50" cy="542.13" r="7.40" fill-opacity="0.50"/><rect x="465.70" y="707.75" width="35.40" height="11.20" rx="5.60"/><circle cx="471.30" cy="713.35" r="7.40" fill-opacity="0.50"/><circle cx="483.40" cy="713.35" r="7.40" fill-opacity="0.50"/><circle cx="495.50" cy="713.35" r="7.40" fill-opacity="0.50"/><rect x="477.80" y="878.96" width="11.20" height="11.20" rx="5.60"/><circle cx="483.40" cy="884.56" r="7.40" fill-opacity="0.50"/>
<rect x="647.80" y="194.10" width="108.00" height="11.20" rx="5.60"/><circle cx="653.40" cy="199.70" r="7.40" fill-opacity="0.50"/><circle cx="665.50" cy="199.70" r="7.40" fill-opacity="0.50"/><circle cx="677.60" cy="199.70" r="7.40" fill-opacity="0.50"/><circle cx="689.70" cy="199.70" r="7.40" fill-opacity="0.50"/><circle cx="701.80" cy="199.70" r="7.40" fill-opacity="0.50"/><circle cx="713.90" cy="199.70" r="7.40" fill-opacity="0.50"/><circle cx="726.00" cy="199.70" r="7.40" fill-opacity="0.50"/><circle cx="738.10" cy="199.70" r="7.40" fill-opacity="0.50"/><circle cx="750.20" cy="199.70" r="7.40" fill-opacity="0.50"/><rect x="690.15" y="365.31" width="23.30" height="11.20" rx="5.60"/><circle cx="695.75" cy="370.91" r="7.40" fill-opacity="0.50"/><circle cx="707.85" cy="370.91" r="7.40" fill-opacity="0.50"/><rect x="678.05" y="536.53" width="47.50" height="11.20" rx="5.60"/><circle cx="683.65" cy="542.13" r="7.40" fill-opacity="0.50"/><circle cx="695.75" cy="542.13" r="7.40" fill-opacity="0.50"/><circle cx="707.85" cy="542.13" r="7.40" fill-opacity="0.50"/><circle cx="719.95" cy="542.13" r="7.40" fill-opacity="0.50"/>
<rect x="801.60" y="194.10" width="156.40" height="11.20" rx="5.60"/><circle cx="807.20" cy="199.70" r="7.40" fill-opacity="0.50"/><circle cx="819.30" cy="199.70" r="7.40" fill-opacity="0.50"/><circle cx="831.40" cy="199.70" r="7.40" fill-opacity="0.50"/><circle cx="843.50" cy="199.70" r="7.40" fill-opacity="0.50"/><circle cx="855.60" cy="199.70" r="7.40" fill-opacity="0.50"/><circle cx="867.70" cy="199.70" r="7.40" fill-opacity="0.50"/><circle cx="879.80" cy="199.70" r="7.40" fill-opacity="0.50"/><circle cx="891.90" cy="199.70" r="7.40" fill-opacity="0.50"/><circle cx="904.00" cy="199.70" r="7.40" fill-opacity="0.50"/><circle cx="916.10" cy="199.70" r="7.40" fill-opacity="0.50"/><circle cx="928.20" cy="199.70" r="7.40" fill-opacity="0.50"/><circle cx="940.30" cy="199.70" r="7.40" fill-opacity="0.50"/><circle cx="952.40" cy="199.70" r="7.40" fill-opacity="0.50"/><rect x="874.20" y="707.75" width="11.20" height="11.20" rx="5.60"/><circle cx="879.80" cy="713.35" r="7.40" fill-opacity="0.50"/><rect x="874.20" y="878.96" width="11.20" height="11.20" rx="5.60"/><circle cx="879.80" cy="884.56" r="7.40" fill-opacity="0.50"/>
</g>
<path d="M394.40 1479.70V1493.80" stroke="#2e2e2e" stroke-width="3.00"/>
<path d="M394.40 1479.70V1494.50" stroke="#2e2e2e" stroke-width="7.00" stroke-opacity="0.35"/>
<path d="M790.80 1479.70V1493.80" stroke="#2e2e2e" stroke-width="3.00"/>
<path d="M790.80 1479.70V1494.50" stroke="#2e2e2e" stroke-width="7.00" stroke-opacity="0.35"/>
<rect x="1056.30" y="29.90" width="870.20" height="87.30" fill="#d9d9d9"/>
<path d="M1056.30 1398.21H1926.50" stroke="#f4f4f4" stroke-width="5.60"/>
<path d="M1056.30 1055.78H1926.50" stroke="#f4f4f4" stroke-width="5.60"/>
<path d="M1056.30 713.35H1926.50" stroke="#f4f4f4" stroke-width="5.60"/>
<path d="M1056.30 370.91H1926.50" stroke="#f4f4f4" stroke-width="5.60"/>
<path d="M1056.30 1226.99H1926.50" stroke="#eaeaea" stroke-width="5.80"/>
<path d="M1056.30 884.56H1926.50" stroke="#eaeaea" stroke-width="5.80"/>
<path d="M1056.30 542.13H1926.50" stroke="#eaeaea" stroke-width="5.80"/>
<path d="M1056.30 199.70H1926.50" stroke="#eaeaea" stroke-width="5.80"/>
<path d="M1293.90 117.20V1478.40" stroke="#f3f3f3" stroke-width="7.50"/>
<path d="M1293.90 117.20V1478.40" stroke="#e9e9e9" stroke-width="3.20"/>
<path d="M1690.00 117.20V1478.40" stroke="#f3f3f3" stroke-width="7.50"/>
<path d="M1690.00 117.20V1478.40" stroke="#e9e9e9" stroke-width="3.20"/>
<defs><path id="vMAF" d="M1193.94,1226.99 L1193.96,1222.96 L1194.02,1218.93 L1194.11,1214.90 L1194.25,1210.88 L1194.42,1206.85 L1194.63,1202.82 L1194.87,1198.79 L1195.14,1194.76 L1195.43,1190.73 L1195.75,1186.70 L1196.09,1182.68 L1196.45,1178.65 L1196.83,1174.62 L1197.21,1170.59 L1197.61,1166.56 L1198.00,1162.53 L1198.40,1158.50 L1198.80,1154.48 L1199.19,1150.45 L1199.58,1146.42 L1199.96,1142.39 L1200.32,1138.36 L1200.68,1134.33 L1201.02,1130.30 L1201.34,1126.28 L1201.64,1122.25 L1201.93,1118.22 L1202.19,1114.19 L1202.44,1110.16 L1202.66,1106.13 L1202.87,1102.10 L1203.05,1098.08 L1203.21,1094.05 L1203.36,1090.02 L1203.47,1085.99 L1203.57,1081.96 L1203.65,1077.93 L1203.70,1073.90 L1203.73,1069.88 L1203.74,1065.85 L1203.72,1061.82 L1203.68,1057.79 L1203.62,1053.76 L1203.53,1049.73 L1203.41,1045.70 L1203.27,1041.67 L1203.10,1037.65 L1202.90,1033.62 L1202.67,1029.59 L1202.40,1025.56 L1202.10,1021.53 L1201.77,1017.50 L1201.41,1013.47 L1201.00,1009.45 L1200.56,1005.42 L1200.09,1001.39 L1199.57,997.36 L1199.02,993.33 L1198.44,989.30 L1197.81,985.27 L1197.16,981.25 L1196.47,977.22 L1195.76,973.19 L1195.01,969.16 L1194.25,965.13 L1193.46,961.10 L1192.67,957.07 L1191.86,953.05 L1191.05,949.02 L1190.23,944.99 L1189.43,940.96 L1188.63,936.93 L1187.86,932.90 L1187.11,928.87 L1186.39,924.85 L1185.70,920.82 L1185.05,916.79 L1184.45,912.76 L1183.90,908.73 L1183.39,904.70 L1182.95,900.67 L1182.56,896.65 L1182.22,892.62 L1181.95,888.59 L1181.73,884.56 L1181.56,880.53 L1181.45,876.50 L1181.38,872.47 L1181.36,868.45 L1181.37,864.42 L1181.42,860.39 L1181.49,856.36 L1181.57,852.33 L1181.66,848.30 L1181.76,844.27 L1181.84,840.25 L1181.91,836.22 L1181.96,832.19 L1181.98,828.16 L1181.95,824.13 L1181.89,820.10 L1181.78,816.07 L1181.61,812.05 L1181.38,808.02 L1181.10,803.99 L1180.76,799.96 L1180.36,795.93 L1179.90,791.90 L1179.39,787.87 L1178.83,783.85 L1178.22,779.82 L1177.58,775.79 L1176.90,771.76 L1176.19,767.73 L1175.47,763.70 L1174.74,759.67 L1174.00,755.65 L1173.28,751.62 L1172.56,747.59 L1171.87,743.56 L1171.21,739.53 L1170.58,735.50 L1170.00,731.47 L1169.45,727.45 L1168.94,723.42 L1168.48,719.39 L1168.06,715.36 L1167.67,711.33 L1167.32,707.30 L1167.00,703.27 L1166.69,699.24 L1166.39,695.22 L1166.10,691.19 L1165.78,687.16 L1165.44,683.13 L1165.06,679.10 L1164.63,675.07 L1164.13,671.04 L1163.55,667.02 L1162.87,662.99 L1162.09,658.96 L1161.20,654.93 L1160.18,650.90 L1159.03,646.87 L1157.74,642.84 L1156.32,638.82 L1154.75,634.79 L1153.05,630.76 L1151.23,626.73 L1149.28,622.70 L1147.22,618.67 L1145.07,614.64 L1142.83,610.62 L1140.54,606.59 L1138.22,602.56 L1135.87,598.53 L1133.54,594.50 L1131.25,590.47 L1129.02,586.44 L1126.88,582.42 L1124.87,578.39 L1123.00,574.36 L1121.30,570.33 L1119.79,566.30 L1118.51,562.27 L1117.46,558.24 L1116.67,554.22 L1116.14,550.19 L1115.90,546.16 L1115.95,542.13 L1116.28,538.10 L1116.92,534.07 L1117.84,530.04 L1119.05,526.02 L1120.53,521.99 L1122.27,517.96 L1124.26,513.93 L1126.48,509.90 L1128.90,505.87 L1131.51,501.84 L1134.28,497.82 L1137.19,493.79 L1140.21,489.76 L1143.32,485.73 L1146.48,481.70 L1149.69,477.67 L1152.90,473.64 L1156.10,469.62 L1159.28,465.59 L1162.39,461.56 L1165.44,457.53 L1168.40,453.50 L1171.26,449.47 L1174.00,445.44 L1176.63,441.42 L1179.12,437.39 L1181.48,433.36 L1183.69,429.33 L1185.76,425.30 L1187.69,421.27 L1189.48,417.24 L1191.13,413.22 L1192.64,409.19 L1194.01,405.16 L1195.26,401.13 L1196.39,397.10 L1197.40,393.07 L1198.30,389.04 L1199.10,385.02 L1199.80,380.99 L1200.41,376.96 L1200.93,372.93 L1201.38,368.90 L1201.76,364.87 L1202.06,360.84 L1202.31,356.81 L1202.50,352.79 L1202.64,348.76 L1202.72,344.73 L1202.77,340.70 L1202.77,336.67 L1202.73,332.64 L1202.65,328.61 L1202.54,324.59 L1202.39,320.56 L1202.22,316.53 L1202.01,312.50 L1201.78,308.47 L1201.52,304.44 L1201.24,300.41 L1200.94,296.39 L1200.62,292.36 L1200.27,288.33 L1199.92,284.30 L1199.55,280.27 L1199.17,276.24 L1198.78,272.21 L1198.39,268.19 L1197.99,264.16 L1197.60,260.13 L1197.21,256.10 L1196.82,252.07 L1196.45,248.04 L1196.09,244.01 L1195.75,239.99 L1195.43,235.96 L1195.14,231.93 L1194.87,227.90 L1194.63,223.87 L1194.42,219.84 L1194.25,215.81 L1194.11,211.79 L1194.02,207.76 L1193.96,203.73 L1193.94,199.70 L1215.86,199.70 L1215.84,203.73 L1215.78,207.76 L1215.69,211.79 L1215.55,215.81 L1215.38,219.84 L1215.17,223.87 L1214.93,227.90 L1214.66,231.93 L1214.37,235.96 L1214.05,239.99 L1213.71,244.01 L1213.35,248.04 L1212.98,252.07 L1212.59,256.10 L1212.20,260.13 L1211.81,264.16 L1211.41,268.19 L1211.02,272.21 L1210.63,276.24 L1210.25,280.27 L1209.88,284.30 L1209.53,288.33 L1209.18,292.36 L1208.86,296.39 L1208.56,300.41 L1208.28,304.44 L1208.02,308.47 L1207.79,312.50 L1207.58,316.53 L1207.41,320.56 L1207.26,324.59 L1207.15,328.61 L1207.07,332.64 L1207.03,336.67 L1207.03,340.70 L1207.08,344.73 L1207.16,348.76 L1207.30,352.79 L1207.49,356.81 L1207.74,360.84 L1208.04,364.87 L1208.42,368.90 L1208.87,372.93 L1209.39,376.96 L1210.00,380.99 L1210.70,385.02 L1211.50,389.04 L1212.40,393.07 L1213.41,397.10 L1214.54,401.13 L1215.79,405.16 L1217.16,409.19 L1218.67,413.22 L1220.32,417.24 L1222.11,421.27 L1224.04,425.30 L1226.11,429.33 L1228.32,433.36 L1230.68,437.39 L1233.17,441.42 L1235.80,445.44 L1238.54,449.47 L1241.40,453.50 L1244.36,457.53 L1247.41,461.56 L1250.52,465.59 L1253.70,469.62 L1256.90,473.64 L1260.11,477.67 L1263.32,481.70 L1266.48,485.73 L1269.59,489.76 L1272.61,493.79 L1275.52,497.82 L1278.29,501.84 L1280.90,505.87 L1283.32,509.90 L1285.54,513.93 L1287.53,517.96 L1289.27,521.99 L1290.75,526.02 L1291.96,530.04 L1292.88,534.07 L1293.52,538.10 L1293.85,542.13 L1293.90,546.16 L1293.66,550.19 L1293.13,554.22 L1292.34,558.24 L1291.29,562.27 L1290.01,566.30 L1288.50,570.33 L1286.80,574.36 L1284.93,578.39 L1282.92,582.42 L1280.78,586.44 L1278.55,590.47 L1276.26,594.50 L1273.93,598.53 L1271.58,602.56 L1269.26,606.59 L1266.97,610.62 L1264.73,614.64 L1262.58,618.67 L1260.52,622.70 L1258.57,626.73 L1256.75,630.76 L1255.05,634.79 L1253.48,638.82 L1252.06,642.84 L1250.77,646.87 L1249.62,650.90 L1248.60,654.93 L1247.71,658.96 L1246.93,662.99 L1246.25,667.02 L1245.67,671.04 L1245.17,675.07 L1244.74,679.10 L1244.36,683.13 L1244.02,687.16 L1243.70,691.19 L1243.41,695.22 L1243.11,699.24 L1242.80,703.27 L1242.48,707.30 L1242.13,711.33 L1241.74,715.36 L1241.32,719.39 L1240.86,723.42 L1240.35,727.45 L1239.80,731.47 L1239.22,735.50 L1238.59,739.53 L1237.93,743.56 L1237.24,747.59 L1236.52,751.62 L1235.80,755.65 L1235.06,759.67 L1234.33,763.70 L1233.61,767.73 L1232.90,771.76 L1232.22,775.79 L1231.58,779.82 L1230.97,783.85 L1230.41,787.87 L1229.90,791.90 L1229.44,795.93 L1229.04,799.96 L1228.70,803.99 L1228.42,808.02 L1228.19,812.05 L1228.02,816.07 L1227.91,820.10 L1227.85,824.13 L1227.82,828.16 L1227.84,832.19 L1227.89,836.22 L1227.96,840.25 L1228.04,844.27 L1228.14,848.30 L1228.23,852.33 L1228.31,856.36 L1228.38,860.39 L1228.43,864.42 L1228.44,868.45 L1228.42,872.47 L1228.35,876.50 L1228.24,880.53 L1228.07,884.56 L1227.85,888.59 L1227.58,892.62 L1227.24,896.65 L1226.85,900.67 L1226.41,904.70 L1225.90,908.73 L1225.35,912.76 L1224.75,916.79 L1224.10,920.82 L1223.41,924.85 L1222.69,928.87 L1221.94,932.90 L1221.17,936.93 L1220.37,940.96 L1219.57,944.99 L1218.75,949.02 L1217.94,953.05 L1217.13,957.07 L1216.34,961.10 L1215.55,965.13 L1214.79,969.16 L1214.04,973.19 L1213.33,977.22 L1212.64,981.25 L1211.99,985.27 L1211.36,989.30 L1210.78,993.33 L1210.23,997.36 L1209.71,1001.39 L1209.24,1005.42 L1208.80,1009.45 L1208.39,1013.47 L1208.03,1017.50 L1207.70,1021.53 L1207.40,1025.56 L1207.13,1029.59 L1206.90,1033.62 L1206.70,1037.65 L1206.53,1041.67 L1206.39,1045.70 L1206.27,1049.73 L1206.18,1053.76 L1206.12,1057.79 L1206.08,1061.82 L1206.06,1065.85 L1206.07,1069.88 L1206.10,1073.90 L1206.15,1077.93 L1206.23,1081.96 L1206.33,1085.99 L1206.44,1090.02 L1206.59,1094.05 L1206.75,1098.08 L1206.93,1102.10 L1207.14,1106.13 L1207.36,1110.16 L1207.61,1114.19 L1207.87,1118.22 L1208.16,1122.25 L1208.46,1126.28 L1208.78,1130.30 L1209.12,1134.33 L1209.48,1138.36 L1209.84,1142.39 L1210.22,1146.42 L1210.61,1150.45 L1211.00,1154.48 L1211.40,1158.50 L1211.80,1162.53 L1212.19,1166.56 L1212.59,1170.59 L1212.97,1174.62 L1213.35,1178.65 L1213.71,1182.68 L1214.05,1186.70 L1214.37,1190.73 L1214.66,1194.76 L1214.93,1198.79 L1215.17,1202.82 L1215.38,1206.85 L1215.55,1210.88 L1215.69,1214.90 L1215.78,1218.93 L1215.84,1222.96 L1215.86,1226.99 Z"/></defs>
<use href="#vMAF" fill="#f10000"/>
<use href="#vMAF" fill="none" stroke="#333333" stroke-opacity="0.38" stroke-width="7.60" stroke-linejoin="round"/>
<use href="#vMAF" fill="none" stroke="#333333" stroke-width="3.00" stroke-linejoin="round"/>
<defs><path id="vMAU" d="M1374.68,1398.21 L1374.54,1393.50 L1374.40,1388.80 L1374.26,1384.10 L1374.12,1379.40 L1373.98,1374.70 L1373.84,1370.00 L1373.70,1365.30 L1373.56,1360.60 L1373.41,1355.90 L1373.27,1351.20 L1373.13,1346.50 L1372.98,1341.80 L1372.84,1337.10 L1372.69,1332.40 L1372.55,1327.70 L1372.40,1323.00 L1372.26,1318.30 L1372.11,1313.60 L1371.97,1308.90 L1371.82,1304.20 L1371.67,1299.50 L1371.53,1294.80 L1371.38,1290.10 L1371.23,1285.40 L1371.08,1280.70 L1370.93,1276.00 L1370.79,1271.30 L1370.64,1266.60 L1370.49,1261.90 L1370.34,1257.20 L1370.19,1252.50 L1370.04,1247.80 L1369.89,1243.10 L1369.74,1238.40 L1369.58,1233.70 L1369.43,1229.00 L1369.28,1224.30 L1369.13,1219.60 L1368.97,1214.90 L1368.82,1210.20 L1368.67,1205.50 L1368.51,1200.80 L1368.36,1196.10 L1368.21,1191.40 L1368.05,1186.70 L1367.90,1182.00 L1367.74,1177.30 L1367.59,1172.60 L1367.43,1167.90 L1367.27,1163.20 L1367.12,1158.50 L1366.96,1153.80 L1366.80,1149.10 L1366.65,1144.40 L1366.49,1139.70 L1366.33,1135.00 L1366.17,1130.30 L1366.02,1125.60 L1365.86,1120.90 L1365.70,1116.20 L1365.54,1111.50 L1365.39,1106.80 L1365.23,1102.10 L1365.07,1097.40 L1364.91,1092.70 L1364.76,1088.00 L1364.60,1083.30 L1364.44,1078.60 L1364.28,1073.90 L1364.13,1069.20 L1363.97,1064.50 L1363.82,1059.80 L1363.66,1055.10 L1363.51,1050.40 L1363.35,1045.70 L1363.20,1041.00 L1363.05,1036.30 L1362.89,1031.60 L1362.74,1026.90 L1362.59,1022.20 L1362.45,1017.50 L1362.30,1012.80 L1362.15,1008.10 L1362.01,1003.40 L1361.86,998.70 L1361.72,994.00 L1361.58,989.30 L1361.44,984.60 L1361.30,979.90 L1361.16,975.20 L1361.03,970.50 L1360.90,965.80 L1360.77,961.10 L1360.64,956.40 L1360.52,951.70 L1360.39,947.00 L1360.27,942.30 L1360.15,937.60 L1360.04,932.90 L1359.93,928.20 L1359.82,923.50 L1359.71,918.80 L1359.61,914.10 L1359.51,909.40 L1359.41,904.70 L1359.32,900.00 L1359.23,895.30 L1359.15,890.60 L1359.06,885.90 L1358.99,881.20 L1358.91,876.50 L1358.84,871.80 L1358.78,867.10 L1358.72,862.40 L1358.66,857.70 L1358.61,853.00 L1358.56,848.30 L1358.52,843.60 L1358.48,838.90 L1358.45,834.20 L1358.42,829.50 L1358.39,824.80 L1358.37,820.10 L1358.36,815.40 L1358.35,810.70 L1358.34,806.00 L1358.34,801.30 L1358.35,796.60 L1358.36,791.90 L1358.38,787.20 L1358.40,782.50 L1358.42,777.80 L1358.45,773.10 L1358.48,768.40 L1358.52,763.70 L1358.57,759.00 L1358.62,754.30 L1358.67,749.60 L1358.73,744.90 L1358.79,740.20 L1358.85,735.50 L1358.92,730.80 L1359.00,726.10 L1359.08,721.40 L1359.16,716.70 L1359.24,712.00 L1359.33,707.30 L1359.42,702.60 L1359.52,697.90 L1359.62,693.20 L1359.72,688.50 L1359.82,683.80 L1359.93,679.10 L1360.04,674.40 L1360.15,669.70 L1360.26,665.00 L1360.37,660.30 L1360.49,655.60 L1360.60,650.90 L1360.72,646.20 L1360.83,641.50 L1360.95,636.80 L1361.07,632.10 L1361.19,627.40 L1361.31,622.70 L1361.42,618.00 L1361.54,613.30 L1361.66,608.60 L1361.77,603.90 L1361.89,599.20 L1362.00,594.50 L1362.11,589.80 L1362.22,585.10 L1362.33,580.40 L1362.43,575.70 L1362.54,571.00 L1362.64,566.30 L1362.74,561.60 L1362.83,556.90 L1362.93,552.20 L1363.02,547.50 L1363.10,542.80 L1363.19,538.10 L1363.27,533.40 L1363.35,528.70 L1363.42,524.00 L1363.49,519.30 L1363.56,514.60 L1363.62,509.90 L1363.68,505.20 L1363.74,500.50 L1363.79,495.80 L1363.84,491.10 L1363.89,486.40 L1363.93,481.70 L1363.97,477.00 L1364.01,472.30 L1364.04,467.60 L1364.07,462.90 L1364.10,458.20 L1364.13,453.50 L1364.15,448.80 L1364.17,444.10 L1364.18,439.40 L1364.20,434.70 L1364.21,430.00 L1364.22,425.30 L1364.23,420.60 L1364.24,415.90 L1364.24,411.20 L1364.25,406.50 L1364.25,401.80 L1364.25,397.10 L1364.25,392.40 L1364.26,387.70 L1364.26,383.00 L1364.26,378.30 L1364.26,373.60 L1364.26,368.90 L1364.26,364.20 L1364.27,359.50 L1364.27,354.80 L1364.28,350.10 L1364.29,345.40 L1364.29,340.70 L1364.31,336.00 L1364.32,331.30 L1364.34,326.60 L1364.35,321.90 L1364.38,317.20 L1364.40,312.50 L1364.43,307.80 L1364.46,303.10 L1364.50,298.40 L1364.53,293.70 L1364.58,289.00 L1364.62,284.30 L1364.67,279.60 L1364.73,274.90 L1364.79,270.20 L1364.85,265.50 L1364.92,260.80 L1365.00,256.10 L1365.07,251.40 L1365.16,246.70 L1365.25,242.00 L1365.34,237.30 L1365.44,232.60 L1365.54,227.90 L1365.65,223.20 L1365.76,218.50 L1365.88,213.80 L1366.01,209.10 L1366.14,204.40 L1366.27,199.70 L1399.53,199.70 L1399.66,204.40 L1399.79,209.10 L1399.92,213.80 L1400.04,218.50 L1400.15,223.20 L1400.26,227.90 L1400.36,232.60 L1400.46,237.30 L1400.55,242.00 L1400.64,246.70 L1400.73,251.40 L1400.80,256.10 L1400.88,260.80 L1400.95,265.50 L1401.01,270.20 L1401.07,274.90 L1401.13,279.60 L1401.18,284.30 L1401.22,289.00 L1401.27,293.70 L1401.30,298.40 L1401.34,303.10 L1401.37,307.80 L1401.40,312.50 L1401.42,317.20 L1401.45,321.90 L1401.46,326.60 L1401.48,331.30 L1401.49,336.00 L1401.51,340.70 L1401.51,345.40 L1401.52,350.10 L1401.53,354.80 L1401.53,359.50 L1401.54,364.20 L1401.54,368.90 L1401.54,373.60 L1401.54,378.30 L1401.54,383.00 L1401.54,387.70 L1401.55,392.40 L1401.55,397.10 L1401.55,401.80 L1401.55,406.50 L1401.56,411.20 L1401.56,415.90 L1401.57,420.60 L1401.58,425.30 L1401.59,430.00 L1401.60,434.70 L1401.62,439.40 L1401.63,444.10 L1401.65,448.80 L1401.67,453.50 L1401.70,458.20 L1401.73,462.90 L1401.76,467.60 L1401.79,472.30 L1401.83,477.00 L1401.87,481.70 L1401.91,486.40 L1401.96,491.10 L1402.01,495.80 L1402.06,500.50 L1402.12,505.20 L1402.18,509.90 L1402.24,514.60 L1402.31,519.30 L1402.38,524.00 L1402.45,528.70 L1402.53,533.40 L1402.61,538.10 L1402.70,542.80 L1402.78,547.50 L1402.87,552.20 L1402.97,556.90 L1403.06,561.60 L1403.16,566.30 L1403.26,571.00 L1403.37,575.70 L1403.47,580.40 L1403.58,585.10 L1403.69,589.80 L1403.80,594.50 L1403.91,599.20 L1404.03,603.90 L1404.14,608.60 L1404.26,613.30 L1404.38,618.00 L1404.49,622.70 L1404.61,627.40 L1404.73,632.10 L1404.85,636.80 L1404.97,641.50 L1405.08,646.20 L1405.20,650.90 L1405.31,655.60 L1405.43,660.30 L1405.54,665.00 L1405.65,669.70 L1405.76,674.40 L1405.87,679.10 L1405.98,683.80 L1406.08,688.50 L1406.18,693.20 L1406.28,697.90 L1406.38,702.60 L1406.47,707.30 L1406.56,712.00 L1406.64,716.70 L1406.72,721.40 L1406.80,726.10 L1406.88,730.80 L1406.95,735.50 L1407.01,740.20 L1407.07,744.90 L1407.13,749.60 L1407.18,754.30 L1407.23,759.00 L1407.28,763.70 L1407.32,768.40 L1407.35,773.10 L1407.38,777.80 L1407.40,782.50 L1407.42,787.20 L1407.44,791.90 L1407.45,796.60 L1407.46,801.30 L1407.46,806.00 L1407.45,810.70 L1407.44,815.40 L1407.43,820.10 L1407.41,824.80 L1407.38,829.50 L1407.35,834.20 L1407.32,838.90 L1407.28,843.60 L1407.24,848.30 L1407.19,853.00 L1407.14,857.70 L1407.08,862.40 L1407.02,867.10 L1406.96,871.80 L1406.89,876.50 L1406.81,881.20 L1406.74,885.90 L1406.65,890.60 L1406.57,895.30 L1406.48,900.00 L1406.39,904.70 L1406.29,909.40 L1406.19,914.10 L1406.09,918.80 L1405.98,923.50 L1405.87,928.20 L1405.76,932.90 L1405.65,937.60 L1405.53,942.30 L1405.41,947.00 L1405.28,951.70 L1405.16,956.40 L1405.03,961.10 L1404.90,965.80 L1404.77,970.50 L1404.64,975.20 L1404.50,979.90 L1404.36,984.60 L1404.22,989.30 L1404.08,994.00 L1403.94,998.70 L1403.79,1003.40 L1403.65,1008.10 L1403.50,1012.80 L1403.35,1017.50 L1403.21,1022.20 L1403.06,1026.90 L1402.91,1031.60 L1402.75,1036.30 L1402.60,1041.00 L1402.45,1045.70 L1402.29,1050.40 L1402.14,1055.10 L1401.98,1059.80 L1401.83,1064.50 L1401.67,1069.20 L1401.52,1073.90 L1401.36,1078.60 L1401.20,1083.30 L1401.04,1088.00 L1400.89,1092.70 L1400.73,1097.40 L1400.57,1102.10 L1400.41,1106.80 L1400.26,1111.50 L1400.10,1116.20 L1399.94,1120.90 L1399.78,1125.60 L1399.63,1130.30 L1399.47,1135.00 L1399.31,1139.70 L1399.15,1144.40 L1399.00,1149.10 L1398.84,1153.80 L1398.68,1158.50 L1398.53,1163.20 L1398.37,1167.90 L1398.21,1172.60 L1398.06,1177.30 L1397.90,1182.00 L1397.75,1186.70 L1397.59,1191.40 L1397.44,1196.10 L1397.29,1200.80 L1397.13,1205.50 L1396.98,1210.20 L1396.83,1214.90 L1396.67,1219.60 L1396.52,1224.30 L1396.37,1229.00 L1396.22,1233.70 L1396.06,1238.40 L1395.91,1243.10 L1395.76,1247.80 L1395.61,1252.50 L1395.46,1257.20 L1395.31,1261.90 L1395.16,1266.60 L1395.01,1271.30 L1394.87,1276.00 L1394.72,1280.70 L1394.57,1285.40 L1394.42,1290.10 L1394.27,1294.80 L1394.13,1299.50 L1393.98,1304.20 L1393.83,1308.90 L1393.69,1313.60 L1393.54,1318.30 L1393.40,1323.00 L1393.25,1327.70 L1393.11,1332.40 L1392.96,1337.10 L1392.82,1341.80 L1392.67,1346.50 L1392.53,1351.20 L1392.39,1355.90 L1392.24,1360.60 L1392.10,1365.30 L1391.96,1370.00 L1391.82,1374.70 L1391.68,1379.40 L1391.54,1384.10 L1391.40,1388.80 L1391.26,1393.50 L1391.12,1398.21 Z"/></defs>
<use href="#vMAU" fill="#277cbd"/>
<use href="#vMAU" fill="none" stroke="#333333" stroke-opacity="0.38" stroke-width="7.60" stroke-linejoin="round"/>
<use href="#vMAU" fill="none" stroke="#333333" stroke-width="3.00" stroke-linejoin="round"/>
<defs><path id="vMHF" d="M1593.69,1055.78 L1593.69,1052.42 L1593.71,1049.06 L1593.73,1045.70 L1593.76,1042.35 L1593.79,1038.99 L1593.84,1035.63 L1593.89,1032.27 L1593.95,1028.92 L1594.01,1025.56 L1594.09,1022.20 L1594.17,1018.85 L1594.26,1015.49 L1594.35,1012.13 L1594.45,1008.77 L1594.55,1005.42 L1594.66,1002.06 L1594.78,998.70 L1594.90,995.35 L1595.02,991.99 L1595.15,988.63 L1595.29,985.27 L1595.42,981.92 L1595.56,978.56 L1595.70,975.20 L1595.84,971.85 L1595.98,968.49 L1596.13,965.13 L1596.28,961.77 L1596.42,958.42 L1596.57,955.06 L1596.71,951.70 L1596.86,948.35 L1597.00,944.99 L1597.15,941.63 L1597.29,938.27 L1597.43,934.92 L1597.57,931.56 L1597.70,928.20 L1597.83,924.85 L1597.96,921.49 L1598.09,918.13 L1598.21,914.77 L1598.33,911.42 L1598.44,908.06 L1598.55,904.70 L1598.65,901.35 L1598.75,897.99 L1598.85,894.63 L1598.94,891.27 L1599.02,887.92 L1599.10,884.56 L1599.17,881.20 L1599.24,877.85 L1599.30,874.49 L1599.35,871.13 L1599.40,867.77 L1599.43,864.42 L1599.47,861.06 L1599.49,857.70 L1599.50,854.35 L1599.51,850.99 L1599.51,847.63 L1599.50,844.27 L1599.48,840.92 L1599.45,837.56 L1599.41,834.20 L1599.36,830.85 L1599.30,827.49 L1599.22,824.13 L1599.13,820.77 L1599.04,817.42 L1598.92,814.06 L1598.80,810.70 L1598.66,807.35 L1598.50,803.99 L1598.33,800.63 L1598.14,797.27 L1597.93,793.92 L1597.70,790.56 L1597.46,787.20 L1597.19,783.85 L1596.91,780.49 L1596.60,777.13 L1596.27,773.77 L1595.92,770.42 L1595.54,767.06 L1595.14,763.70 L1594.71,760.35 L1594.26,756.99 L1593.78,753.63 L1593.27,750.27 L1592.73,746.92 L1592.16,743.56 L1591.56,740.20 L1590.93,736.85 L1590.27,733.49 L1589.57,730.13 L1588.84,726.77 L1588.09,723.42 L1587.29,720.06 L1586.47,716.70 L1585.61,713.35 L1584.71,709.99 L1583.79,706.63 L1582.83,703.27 L1581.84,699.92 L1580.82,696.56 L1579.76,693.20 L1578.68,689.84 L1577.56,686.49 L1576.42,683.13 L1575.25,679.77 L1574.05,676.42 L1572.83,673.06 L1571.58,669.70 L1570.32,666.34 L1569.03,662.99 L1567.73,659.63 L1566.42,656.27 L1565.09,652.92 L1563.75,649.56 L1562.40,646.20 L1561.05,642.84 L1559.70,639.49 L1558.35,636.13 L1557.00,632.77 L1555.67,629.42 L1554.34,626.06 L1553.02,622.70 L1551.72,619.34 L1550.45,615.99 L1549.19,612.63 L1547.97,609.27 L1546.77,605.92 L1545.61,602.56 L1544.48,599.20 L1543.39,595.84 L1542.35,592.49 L1541.35,589.13 L1540.40,585.77 L1539.50,582.42 L1538.65,579.06 L1537.86,575.70 L1537.13,572.34 L1536.46,568.99 L1535.85,565.63 L1535.30,562.27 L1534.82,558.92 L1534.40,555.56 L1534.06,552.20 L1533.78,548.84 L1533.57,545.49 L1533.43,542.13 L1533.35,538.77 L1533.35,535.42 L1533.41,532.06 L1533.54,528.70 L1533.74,525.34 L1534.01,521.99 L1534.34,518.63 L1534.73,515.27 L1535.18,511.92 L1535.69,508.56 L1536.25,505.20 L1536.87,501.84 L1537.55,498.49 L1538.27,495.13 L1539.04,491.77 L1539.85,488.42 L1540.70,485.06 L1541.59,481.70 L1542.51,478.34 L1543.46,474.99 L1544.44,471.63 L1545.44,468.27 L1546.47,464.92 L1547.51,461.56 L1548.56,458.20 L1549.63,454.84 L1550.70,451.49 L1551.77,448.13 L1552.85,444.77 L1553.92,441.42 L1554.99,438.06 L1556.05,434.70 L1557.10,431.34 L1558.13,427.99 L1559.15,424.63 L1560.14,421.27 L1561.12,417.92 L1562.07,414.56 L1563.00,411.20 L1563.89,407.84 L1564.76,404.49 L1565.60,401.13 L1566.40,397.77 L1567.17,394.42 L1567.90,391.06 L1568.60,387.70 L1569.26,384.34 L1569.88,380.99 L1570.47,377.63 L1571.01,374.27 L1571.52,370.91 L1571.99,367.56 L1572.41,364.20 L1572.80,360.84 L1573.15,357.49 L1573.47,354.13 L1573.74,350.77 L1573.98,347.41 L1574.18,344.06 L1574.34,340.70 L1574.47,337.34 L1574.57,333.99 L1574.63,330.63 L1574.67,327.27 L1574.67,323.91 L1574.65,320.56 L1574.60,317.20 L1574.52,313.84 L1574.42,310.49 L1574.30,307.13 L1574.16,303.77 L1574.00,300.41 L1573.83,297.06 L1573.64,293.70 L1573.43,290.34 L1573.22,286.99 L1573.00,283.63 L1572.77,280.27 L1572.54,276.91 L1572.30,273.56 L1572.06,270.20 L1571.83,266.84 L1571.60,263.49 L1571.37,260.13 L1571.15,256.77 L1570.93,253.41 L1570.73,250.06 L1570.54,246.70 L1570.36,243.34 L1570.20,239.99 L1570.05,236.63 L1569.92,233.27 L1569.81,229.91 L1569.73,226.56 L1569.66,223.20 L1569.61,219.84 L1569.59,216.49 L1569.60,213.13 L1569.62,209.77 L1569.68,206.41 L1569.76,203.06 L1569.86,199.70 L1632.14,199.70 L1632.24,203.06 L1632.32,206.41 L1632.38,209.77 L1632.40,213.13 L1632.41,216.49 L1632.39,219.84 L1632.34,223.20 L1632.27,226.56 L1632.19,229.91 L1632.08,233.27 L1631.95,236.63 L1631.80,239.99 L1631.64,243.34 L1631.46,246.70 L1631.27,250.06 L1631.07,253.41 L1630.85,256.77 L1630.63,260.13 L1630.40,263.49 L1630.17,266.84 L1629.94,270.20 L1629.70,273.56 L1629.46,276.91 L1629.23,280.27 L1629.00,283.63 L1628.78,286.99 L1628.57,290.34 L1628.36,293.70 L1628.17,297.06 L1628.00,300.41 L1627.84,303.77 L1627.70,307.13 L1627.58,310.49 L1627.48,313.84 L1627.40,317.20 L1627.35,320.56 L1627.33,323.91 L1627.33,327.27 L1627.37,330.63 L1627.43,333.99 L1627.53,337.34 L1627.66,340.70 L1627.82,344.06 L1628.02,347.41 L1628.26,350.77 L1628.53,354.13 L1628.85,357.49 L1629.20,360.84 L1629.59,364.20 L1630.01,367.56 L1630.48,370.91 L1630.99,374.27 L1631.53,377.63 L1632.12,380.99 L1632.74,384.34 L1633.40,387.70 L1634.10,391.06 L1634.83,394.42 L1635.60,397.77 L1636.40,401.13 L1637.24,404.49 L1638.11,407.84 L1639.00,411.20 L1639.93,414.56 L1640.88,417.92 L1641.86,421.27 L1642.85,424.63 L1643.87,427.99 L1644.90,431.34 L1645.95,434.70 L1647.01,438.06 L1648.08,441.42 L1649.15,444.77 L1650.23,448.13 L1651.30,451.49 L1652.37,454.84 L1653.44,458.20 L1654.49,461.56 L1655.53,464.92 L1656.56,468.27 L1657.56,471.63 L1658.54,474.99 L1659.49,478.34 L1660.41,481.70 L1661.30,485.06 L1662.15,488.42 L1662.96,491.77 L1663.73,495.13 L1664.45,498.49 L1665.13,501.84 L1665.75,505.20 L1666.31,508.56 L1666.82,511.92 L1667.27,515.27 L1667.66,518.63 L1667.99,521.99 L1668.26,525.34 L1668.46,528.70 L1668.59,532.06 L1668.65,535.42 L1668.65,538.77 L1668.57,542.13 L1668.43,545.49 L1668.22,548.84 L1667.94,552.20 L1667.60,555.56 L1667.18,558.92 L1666.70,562.27 L1666.15,565.63 L1665.54,568.99 L1664.87,572.34 L1664.14,575.70 L1663.35,579.06 L1662.50,582.42 L1661.60,585.77 L1660.65,589.13 L1659.65,592.49 L1658.61,595.84 L1657.52,599.20 L1656.39,602.56 L1655.23,605.92 L1654.03,609.27 L1652.81,612.63 L1651.55,615.99 L1650.28,619.34 L1648.98,622.70 L1647.66,626.06 L1646.33,629.42 L1645.00,632.77 L1643.65,636.13 L1642.30,639.49 L1640.95,642.84 L1639.60,646.20 L1638.25,649.56 L1636.91,652.92 L1635.58,656.27 L1634.27,659.63 L1632.97,662.99 L1631.68,666.34 L1630.42,669.70 L1629.17,673.06 L1627.95,676.42 L1626.75,679.77 L1625.58,683.13 L1624.44,686.49 L1623.32,689.84 L1622.24,693.20 L1621.18,696.56 L1620.16,699.92 L1619.17,703.27 L1618.21,706.63 L1617.29,709.99 L1616.39,713.35 L1615.53,716.70 L1614.71,720.06 L1613.91,723.42 L1613.16,726.77 L1612.43,730.13 L1611.73,733.49 L1611.07,736.85 L1610.44,740.20 L1609.84,743.56 L1609.27,746.92 L1608.73,750.27 L1608.22,753.63 L1607.74,756.99 L1607.29,760.35 L1606.86,763.70 L1606.46,767.06 L1606.08,770.42 L1605.73,773.77 L1605.40,777.13 L1605.09,780.49 L1604.81,783.85 L1604.54,787.20 L1604.30,790.56 L1604.07,793.92 L1603.86,797.27 L1603.67,800.63 L1603.50,803.99 L1603.34,807.35 L1603.20,810.70 L1603.08,814.06 L1602.96,817.42 L1602.87,820.77 L1602.78,824.13 L1602.70,827.49 L1602.64,830.85 L1602.59,834.20 L1602.55,837.56 L1602.52,840.92 L1602.50,844.27 L1602.49,847.63 L1602.49,850.99 L1602.50,854.35 L1602.51,857.70 L1602.53,861.06 L1602.57,864.42 L1602.60,867.77 L1602.65,871.13 L1602.70,874.49 L1602.76,877.85 L1602.83,881.20 L1602.90,884.56 L1602.98,887.92 L1603.06,891.27 L1603.15,894.63 L1603.25,897.99 L1603.35,901.35 L1603.45,904.70 L1603.56,908.06 L1603.67,911.42 L1603.79,914.77 L1603.91,918.13 L1604.04,921.49 L1604.17,924.85 L1604.30,928.20 L1604.43,931.56 L1604.57,934.92 L1604.71,938.27 L1604.85,941.63 L1605.00,944.99 L1605.14,948.35 L1605.29,951.70 L1605.43,955.06 L1605.58,958.42 L1605.72,961.77 L1605.87,965.13 L1606.02,968.49 L1606.16,971.85 L1606.30,975.20 L1606.44,978.56 L1606.58,981.92 L1606.71,985.27 L1606.85,988.63 L1606.98,991.99 L1607.10,995.35 L1607.22,998.70 L1607.34,1002.06 L1607.45,1005.42 L1607.55,1008.77 L1607.65,1012.13 L1607.74,1015.49 L1607.83,1018.85 L1607.91,1022.20 L1607.99,1025.56 L1608.05,1028.92 L1608.11,1032.27 L1608.16,1035.63 L1608.21,1038.99 L1608.24,1042.35 L1608.27,1045.70 L1608.29,1049.06 L1608.31,1052.42 L1608.31,1055.78 Z"/></defs>
<use href="#vMHF" fill="#f10000"/>
<use href="#vMHF" fill="none" stroke="#333333" stroke-opacity="0.38" stroke-width="7.60" stroke-linejoin="round"/>
<use href="#vMHF" fill="none" stroke="#333333" stroke-width="3.00" stroke-linejoin="round"/>
<defs><path id="vMHU" d="M1767.21,884.56 L1767.13,881.87 L1767.06,879.19 L1766.99,876.50 L1766.94,873.82 L1766.90,871.13 L1766.86,868.45 L1766.82,865.76 L1766.79,863.07 L1766.77,860.39 L1766.75,857.70 L1766.72,855.02 L1766.70,852.33 L1766.68,849.65 L1766.65,846.96 L1766.62,844.27 L1766.59,841.59 L1766.54,838.90 L1766.49,836.22 L1766.43,833.53 L1766.36,830.85 L1766.28,828.16 L1766.19,825.47 L1766.08,822.79 L1765.96,820.10 L1765.83,817.42 L1765.68,814.73 L1765.51,812.05 L1765.33,809.36 L1765.13,806.67 L1764.92,803.99 L1764.69,801.30 L1764.44,798.62 L1764.18,795.93 L1763.90,793.25 L1763.61,790.56 L1763.31,787.87 L1763.00,785.19 L1762.67,782.50 L1762.34,779.82 L1761.99,777.13 L1761.64,774.45 L1761.28,771.76 L1760.92,769.07 L1760.56,766.39 L1760.20,763.70 L1759.84,761.02 L1759.48,758.33 L1759.13,755.65 L1758.78,752.96 L1758.45,750.27 L1758.12,747.59 L1757.81,744.90 L1757.51,742.22 L1757.22,739.53 L1756.95,736.85 L1756.70,734.16 L1756.46,731.47 L1756.25,728.79 L1756.05,726.10 L1755.88,723.42 L1755.73,720.73 L1755.59,718.05 L1755.48,715.36 L1755.39,712.67 L1755.32,709.99 L1755.27,707.30 L1755.24,704.62 L1755.23,701.93 L1755.23,699.24 L1755.25,696.56 L1755.28,693.87 L1755.32,691.19 L1755.38,688.50 L1755.44,685.82 L1755.51,683.13 L1755.58,680.44 L1755.66,677.76 L1755.73,675.07 L1755.80,672.39 L1755.87,669.70 L1755.93,667.02 L1755.98,664.33 L1756.01,661.64 L1756.04,658.96 L1756.04,656.27 L1756.03,653.59 L1756.01,650.90 L1755.95,648.22 L1755.88,645.53 L1755.79,642.84 L1755.66,640.16 L1755.52,637.47 L1755.35,634.79 L1755.15,632.10 L1754.92,629.42 L1754.67,626.73 L1754.39,624.04 L1754.09,621.36 L1753.76,618.67 L1753.41,615.99 L1753.04,613.30 L1752.65,610.62 L1752.24,607.93 L1751.81,605.24 L1751.37,602.56 L1750.91,599.87 L1750.45,597.19 L1749.97,594.50 L1749.49,591.82 L1749.01,589.13 L1748.53,586.44 L1748.05,583.76 L1747.57,581.07 L1747.11,578.39 L1746.65,575.70 L1746.20,573.02 L1745.77,570.33 L1745.35,567.64 L1744.95,564.96 L1744.57,562.27 L1744.21,559.59 L1743.87,556.90 L1743.55,554.22 L1743.25,551.53 L1742.97,548.84 L1742.72,546.16 L1742.48,543.47 L1742.27,540.79 L1742.08,538.10 L1741.90,535.42 L1741.74,532.73 L1741.59,530.04 L1741.45,527.36 L1741.33,524.67 L1741.20,521.99 L1741.08,519.30 L1740.96,516.62 L1740.83,513.93 L1740.70,511.24 L1740.55,508.56 L1740.39,505.87 L1740.20,503.19 L1740.00,500.50 L1739.76,497.82 L1739.50,495.13 L1739.20,492.44 L1738.86,489.76 L1738.48,487.07 L1738.06,484.39 L1737.58,481.70 L1737.06,479.02 L1736.49,476.33 L1735.87,473.64 L1735.19,470.96 L1734.46,468.27 L1733.67,465.59 L1732.83,462.90 L1731.93,460.22 L1730.99,457.53 L1729.99,454.84 L1728.94,452.16 L1727.84,449.47 L1726.71,446.79 L1725.53,444.10 L1724.32,441.42 L1723.08,438.73 L1721.81,436.04 L1720.53,433.36 L1719.23,430.67 L1717.92,427.99 L1716.61,425.30 L1715.31,422.62 L1714.01,419.93 L1712.74,417.24 L1711.49,414.56 L1710.28,411.87 L1709.11,409.19 L1707.98,406.50 L1706.90,403.82 L1705.89,401.13 L1704.94,398.44 L1704.06,395.76 L1703.26,393.07 L1702.55,390.39 L1701.92,387.70 L1701.38,385.02 L1700.94,382.33 L1700.59,379.64 L1700.35,376.96 L1700.21,374.27 L1700.17,371.59 L1700.24,368.90 L1700.42,366.21 L1700.69,363.53 L1701.08,360.84 L1701.56,358.16 L1702.14,355.47 L1702.82,352.79 L1703.59,350.10 L1704.45,347.41 L1705.40,344.73 L1706.42,342.04 L1707.52,339.36 L1708.68,336.67 L1709.91,333.99 L1711.20,331.30 L1712.53,328.61 L1713.91,325.93 L1715.32,323.24 L1716.76,320.56 L1718.22,317.87 L1719.70,315.19 L1721.19,312.50 L1722.68,309.81 L1724.17,307.13 L1725.65,304.44 L1727.12,301.76 L1728.56,299.07 L1729.98,296.39 L1731.36,293.70 L1732.72,291.01 L1734.03,288.33 L1735.30,285.64 L1736.53,282.96 L1737.71,280.27 L1738.84,277.59 L1739.92,274.90 L1740.95,272.21 L1741.93,269.53 L1742.85,266.84 L1743.72,264.16 L1744.54,261.47 L1745.31,258.79 L1746.02,256.10 L1746.69,253.41 L1747.32,250.73 L1747.90,248.04 L1748.43,245.36 L1748.93,242.67 L1749.40,239.99 L1749.83,237.30 L1750.23,234.61 L1750.60,231.93 L1750.95,229.24 L1751.29,226.56 L1751.60,223.87 L1751.90,221.19 L1752.19,218.50 L1752.47,215.81 L1752.75,213.13 L1753.03,210.44 L1753.31,207.76 L1753.59,205.07 L1753.87,202.39 L1754.17,199.70 L1803.83,199.70 L1804.13,202.39 L1804.41,205.07 L1804.69,207.76 L1804.97,210.44 L1805.25,213.13 L1805.53,215.81 L1805.81,218.50 L1806.10,221.19 L1806.40,223.87 L1806.71,226.56 L1807.05,229.24 L1807.40,231.93 L1807.77,234.61 L1808.17,237.30 L1808.60,239.99 L1809.07,242.67 L1809.57,245.36 L1810.10,248.04 L1810.68,250.73 L1811.31,253.41 L1811.98,256.10 L1812.69,258.79 L1813.46,261.47 L1814.28,264.16 L1815.15,266.84 L1816.07,269.53 L1817.05,272.21 L1818.08,274.90 L1819.16,277.59 L1820.29,280.27 L1821.47,282.96 L1822.70,285.64 L1823.97,288.33 L1825.28,291.01 L1826.64,293.70 L1828.02,296.39 L1829.44,299.07 L1830.88,301.76 L1832.35,304.44 L1833.83,307.13 L1835.32,309.81 L1836.81,312.50 L1838.30,315.19 L1839.78,317.87 L1841.24,320.56 L1842.68,323.24 L1844.09,325.93 L1845.47,328.61 L1846.80,331.30 L1848.09,333.99 L1849.32,336.67 L1850.48,339.36 L1851.58,342.04 L1852.60,344.73 L1853.55,347.41 L1854.41,350.10 L1855.18,352.79 L1855.86,355.47 L1856.44,358.16 L1856.92,360.84 L1857.31,363.53 L1857.58,366.21 L1857.76,368.90 L1857.83,371.59 L1857.79,374.27 L1857.65,376.96 L1857.41,379.64 L1857.06,382.33 L1856.62,385.02 L1856.08,387.70 L1855.45,390.39 L1854.74,393.07 L1853.94,395.76 L1853.06,398.44 L1852.11,401.13 L1851.10,403.82 L1850.02,406.50 L1848.89,409.19 L1847.72,411.87 L1846.51,414.56 L1845.26,417.24 L1843.99,419.93 L1842.69,422.62 L1841.39,425.30 L1840.08,427.99 L1838.77,430.67 L1837.47,433.36 L1836.19,436.04 L1834.92,438.73 L1833.68,441.42 L1832.47,444.10 L1831.29,446.79 L1830.16,449.47 L1829.06,452.16 L1828.01,454.84 L1827.01,457.53 L1826.07,460.22 L1825.17,462.90 L1824.33,465.59 L1823.54,468.27 L1822.81,470.96 L1822.13,473.64 L1821.51,476.33 L1820.94,479.02 L1820.42,481.70 L1819.94,484.39 L1819.52,487.07 L1819.14,489.76 L1818.80,492.44 L1818.50,495.13 L1818.24,497.82 L1818.00,500.50 L1817.80,503.19 L1817.61,505.87 L1817.45,508.56 L1817.30,511.24 L1817.17,513.93 L1817.04,516.62 L1816.92,519.30 L1816.80,521.99 L1816.67,524.67 L1816.55,527.36 L1816.41,530.04 L1816.26,532.73 L1816.10,535.42 L1815.92,538.10 L1815.73,540.79 L1815.52,543.47 L1815.28,546.16 L1815.03,548.84 L1814.75,551.53 L1814.45,554.22 L1814.13,556.90 L1813.79,559.59 L1813.43,562.27 L1813.05,564.96 L1812.65,567.64 L1812.23,570.33 L1811.80,573.02 L1811.35,575.70 L1810.89,578.39 L1810.43,581.07 L1809.95,583.76 L1809.47,586.44 L1808.99,589.13 L1808.51,591.82 L1808.03,594.50 L1807.55,597.19 L1807.09,599.87 L1806.63,602.56 L1806.19,605.24 L1805.76,607.93 L1805.35,610.62 L1804.96,613.30 L1804.59,615.99 L1804.24,618.67 L1803.91,621.36 L1803.61,624.04 L1803.33,626.73 L1803.08,629.42 L1802.85,632.10 L1802.65,634.79 L1802.48,637.47 L1802.34,640.16 L1802.21,642.84 L1802.12,645.53 L1802.05,648.22 L1801.99,650.90 L1801.97,653.59 L1801.96,656.27 L1801.96,658.96 L1801.99,661.64 L1802.02,664.33 L1802.07,667.02 L1802.13,669.70 L1802.20,672.39 L1802.27,675.07 L1802.34,677.76 L1802.42,680.44 L1802.49,683.13 L1802.56,685.82 L1802.62,688.50 L1802.68,691.19 L1802.72,693.87 L1802.75,696.56 L1802.77,699.24 L1802.77,701.93 L1802.76,704.62 L1802.73,707.30 L1802.68,709.99 L1802.61,712.67 L1802.52,715.36 L1802.41,718.05 L1802.27,720.73 L1802.12,723.42 L1801.95,726.10 L1801.75,728.79 L1801.54,731.47 L1801.30,734.16 L1801.05,736.85 L1800.78,739.53 L1800.49,742.22 L1800.19,744.90 L1799.88,747.59 L1799.55,750.27 L1799.22,752.96 L1798.87,755.65 L1798.52,758.33 L1798.16,761.02 L1797.80,763.70 L1797.44,766.39 L1797.08,769.07 L1796.72,771.76 L1796.36,774.45 L1796.01,777.13 L1795.66,779.82 L1795.33,782.50 L1795.00,785.19 L1794.69,787.87 L1794.39,790.56 L1794.10,793.25 L1793.82,795.93 L1793.56,798.62 L1793.31,801.30 L1793.08,803.99 L1792.87,806.67 L1792.67,809.36 L1792.49,812.05 L1792.32,814.73 L1792.17,817.42 L1792.04,820.10 L1791.92,822.79 L1791.81,825.47 L1791.72,828.16 L1791.64,830.85 L1791.57,833.53 L1791.51,836.22 L1791.46,838.90 L1791.41,841.59 L1791.38,844.27 L1791.35,846.96 L1791.32,849.65 L1791.30,852.33 L1791.28,855.02 L1791.25,857.70 L1791.23,860.39 L1791.21,863.07 L1791.18,865.76 L1791.14,868.45 L1791.10,871.13 L1791.06,873.82 L1791.01,876.50 L1790.94,879.19 L1790.87,881.87 L1790.79,884.56 Z"/></defs>
<use href="#vMHU" fill="#277cbd"/>
<use href="#vMHU" fill="none" stroke="#333333" stroke-opacity="0.38" stroke-width="7.60" stroke-linejoin="round"/>
<use href="#vMHU" fill="none" stroke="#333333" stroke-width="3.00" stroke-linejoin="round"/>
<g fill="#000">
<rect x="1199.30" y="194.10" width="11.20" height="11.20" rx="5.60"/><circle cx="1204.90" cy="199.70" r="7.40" fill-opacity="0.50"/><rect x="1156.95" y="536.53" width="95.90" height="11.20" rx="5.60"/><circle cx="1162.55" cy="542.13" r="7.40" fill-opacity="0.50"/><circle cx="1174.65" cy="542.13" r="7.40" fill-opacity="0.50"/><circle cx="1186.75" cy="542.13" r="7.40" fill-opacity="0.50"/><circle cx="1198.85" cy="542.13" r="7.40" fill-opacity="0.50"/><circle cx="1210.95" cy="542.13" r="7.40" fill-opacity="0.50"/><circle cx="1223.05" cy="542.13" r="7.40" fill-opacity="0.50"/><circle cx="1235.15" cy="542.13" r="7.40" fill-opacity="0.50"/><circle cx="1247.25" cy="542.13" r="7.40" fill-opacity="0.50"/><rect x="1187.20" y="707.75" width="35.40" height="11.20" rx="5.60"/><circle cx="1192.80" cy="713.35" r="7.40" fill-opacity="0.50"/><circle cx="1204.90" cy="713.35" r="7.40" fill-opacity="0.50"/><circle cx="1217.00" cy="713.35" r="7.40" fill-opacity="0.50"/><rect x="1193.25" y="878.96" width="23.30" height="11.20" rx="5.60"/><circle cx="1198.85" cy="884.56" r="7.40" fill-opacity="0.50"/><circle cx="1210.95" cy="884.56" r="7.40" fill-opacity="0.50"/><rect x="1199.30" y="1221.39" width="11.20" height="11.20" rx="5.60"/><circle cx="1204.90" cy="1226.99" r="7.40" fill-opacity="0.50"/>
<rect x="1365.20" y="194.10" width="35.40" height="11.20" rx="5.60"/><circle cx="1370.80" cy="199.70" r="7.40" fill-opacity="0.50"/><circle cx="1382.90" cy="199.70" r="7.40" fill-opacity="0.50"/><circle cx="1395.00" cy="199.70" r="7.40" fill-opacity="0.50"/><rect x="1371.25" y="365.31" width="23.30" height="11.20" rx="5.60"/><circle cx="1376.85" cy="370.91" r="7.40" fill-opacity="0.50"/><circle cx="1388.95" cy="370.91" r="7.40" fill-opacity="0.50"/><rect x="1359.15" y="707.75" width="47.50" height="11.20" rx="5.60"/><circle cx="1364.75" cy="713.35" r="7.40" fill-opacity="0.50"/><circle cx="1376.85" cy="713.35" r="7.40" fill-opacity="0.50"/><circle cx="1388.95" cy="713.35" r="7.40" fill-opacity="0.50"/><circle cx="1401.05" cy="713.35" r="7.40" fill-opacity="0.50"/><rect x="1371.25" y="878.96" width="23.30" height="11.20" rx="5.60"/><circle cx="1376.85" cy="884.56" r="7.40" fill-opacity="0.50"/><circle cx="1388.95" cy="884.56" r="7.40" fill-opacity="0.50"/><rect x="1371.25" y="1050.18" width="23.30" height="11.20" rx="5.60"/><circle cx="1376.85" cy="1055.78" r="7.40" fill-opacity="0.50"/><circle cx="1388.95" cy="1055.78" r="7.40" fill-opacity="0.50"/><rect x="1377.30" y="1221.39" width="11.20" height="11.20" rx="5.60"/><circle cx="1382.90" cy="1226.99" r="7.40" fill-opacity="0.50"/><rect x="1377.30" y="1392.61" width="11.20" height="11.20" rx="5.60"/><circle cx="1382.90" cy="1398.21" r="7.40" fill-opacity="0.50"/>
<rect x="1577.25" y="194.10" width="47.50" height="11.20" rx="5.60"/><circle cx="1582.85" cy="199.70" r="7.40" fill-opacity="0.50"/><circle cx="1594.95" cy="199.70" r="7.40" fill-opacity="0.50"/><circle cx="1607.05" cy="199.70" r="7.40" fill-opacity="0.50"/><circle cx="1619.15" cy="199.70" r="7.40" fill-opacity="0.50"/><rect x="1595.40" y="365.31" width="11.20" height="11.20" rx="5.60"/><circle cx="1601.00" cy="370.91" r="7.40" fill-opacity="0.50"/><rect x="1547.00" y="536.53" width="108.00" height="11.20" rx="5.60"/><circle cx="1552.60" cy="542.13" r="7.40" fill-opacity="0.50"/><circle cx="1564.70" cy="542.13" r="7.40" fill-opacity="0.50"/><circle cx="1576.80" cy="542.13" r="7.40" fill-opacity="0.50"/><circle cx="1588.90" cy="542.13" r="7.40" fill-opacity="0.50"/><circle cx="1601.00" cy="542.13" r="7.40" fill-opacity="0.50"/><circle cx="1613.10" cy="542.13" r="7.40" fill-opacity="0.50"/><circle cx="1625.20" cy="542.13" r="7.40" fill-opacity="0.50"/><circle cx="1637.30" cy="542.13" r="7.40" fill-opacity="0.50"/><circle cx="1649.40" cy="542.13" r="7.40" fill-opacity="0.50"/><rect x="1595.40" y="1050.18" width="11.20" height="11.20" rx="5.60"/><circle cx="1601.00" cy="1055.78" r="7.40" fill-opacity="0.50"/>
<rect x="1767.35" y="194.10" width="23.30" height="11.20" rx="5.60"/><circle cx="1772.95" cy="199.70" r="7.40" fill-opacity="0.50"/><circle cx="1785.05" cy="199.70" r="7.40" fill-opacity="0.50"/><rect x="1737.10" y="365.31" width="83.80" height="11.20" rx="5.60"/><circle cx="1742.70" cy="370.91" r="7.40" fill-opacity="0.50"/><circle cx="1754.80" cy="370.91" r="7.40" fill-opacity="0.50"/><circle cx="1766.90" cy="370.91" r="7.40" fill-opacity="0.50"/><circle cx="1779.00" cy="370.91" r="7.40" fill-opacity="0.50"/><circle cx="1791.10" cy="370.91" r="7.40" fill-opacity="0.50"/><circle cx="1803.20" cy="370.91" r="7.40" fill-opacity="0.50"/><circle cx="1815.30" cy="370.91" r="7.40" fill-opacity="0.50"/><rect x="1761.30" y="536.53" width="35.40" height="11.20" rx="5.60"/><circle cx="1766.90" cy="542.13" r="7.40" fill-opacity="0.50"/><circle cx="1779.00" cy="542.13" r="7.40" fill-opacity="0.50"/><circle cx="1791.10" cy="542.13" r="7.40" fill-opacity="0.50"/><rect x="1767.35" y="707.75" width="23.30" height="11.20" rx="5.60"/><circle cx="1772.95" cy="713.35" r="7.40" fill-opacity="0.50"/><circle cx="1785.05" cy="713.35" r="7.40" fill-opacity="0.50"/><rect x="1773.40" y="878.96" width="11.20" height="11.20" rx="5.60"/><circle cx="1779.00" cy="884.56" r="7.40" fill-opacity="0.50"/>
</g>
<path d="M1293.90 1479.70V1493.80" stroke="#2e2e2e" stroke-width="3.00"/>
<path d="M1293.90 1479.70V1494.50" stroke="#2e2e2e" stroke-width="7.00" stroke-opacity="0.35"/>
<path d="M1690.00 1479.70V1493.80" stroke="#2e2e2e" stroke-width="3.00"/>
<path d="M1690.00 1479.70V1494.50" stroke="#2e2e2e" stroke-width="7.00" stroke-opacity="0.35"/>
<path d="M1059.00 31.20V1477.10" stroke="#aaaaaa" stroke-width="2.60"/>
<path d="M158.20 29.90H1028.50" stroke="#2e2e2e" stroke-width="2.70"/>
<path d="M160.50 32.30H1026.20" stroke="#c4c4c4" stroke-width="2.00"/>
<path d="M159.50 114.10H1027.20" stroke="#a9a9a9" stroke-width="2.90"/>
<path d="M159.50 120.20H1027.20" stroke="#888888" stroke-width="2.90"/>
<path d="M158.20 117.20H1028.50" stroke="#2e2e2e" stroke-width="3.00"/>
<path d="M158.20 1478.40H1028.50" stroke="#6e6e6e" stroke-width="2.70"/>
<path d="M1027.20 28.60V1479.70" stroke="#2e2e2e" stroke-width="2.70"/>
<path d="M1055.00 29.90H1927.80" stroke="#2e2e2e" stroke-width="2.70"/>
<path d="M1057.30 32.30H1925.50" stroke="#c4c4c4" stroke-width="2.00"/>
<path d="M1056.30 114.10H1926.50" stroke="#a9a9a9" stroke-width="2.90"/>
<path d="M1056.30 120.20H1926.50" stroke="#888888" stroke-width="2.90"/>
<path d="M1055.00 117.20H1927.80" stroke="#2e2e2e" stroke-width="3.00"/>
<path d="M1055.00 1478.40H1927.80" stroke="#6e6e6e" stroke-width="2.70"/>
<path d="M1926.50 28.60V1479.70" stroke="#2e2e2e" stroke-width="2.70"/>
<path d="M159.50 28.60V1479.70" stroke="#a0a0a0" stroke-width="2.60"/>
<path d="M159.50 28.60V31.20" stroke="#2e2e2e" stroke-width="2.60"/>
<path d="M159.50 115.70V118.70" stroke="#2e2e2e" stroke-width="2.60"/>
<path d="M1056.30 28.60V1479.70" stroke="#2e2e2e" stroke-width="2.70"/>
<path d="M144.00 1227.09H158.20" stroke="#2e2e2e" stroke-width="3.40"/>
<path d="M141.50 1227.09H158.20" stroke="#2e2e2e" stroke-width="5.40" stroke-opacity="0.35"/>
<path d="M144.00 884.66H158.20" stroke="#2e2e2e" stroke-width="3.40"/>
<path d="M141.50 884.66H158.20" stroke="#2e2e2e" stroke-width="5.40" stroke-opacity="0.35"/>
<path d="M144.00 542.23H158.20" stroke="#2e2e2e" stroke-width="3.40"/>
<path d="M141.50 542.23H158.20" stroke="#2e2e2e" stroke-width="5.40" stroke-opacity="0.35"/>
<path d="M144.00 199.80H158.20" stroke="#2e2e2e" stroke-width="3.40"/>
<path d="M141.50 199.80H158.20" stroke="#2e2e2e" stroke-width="5.40" stroke-opacity="0.35"/>
<rect x="2017.8" y="745.3" width="79.4" height="81.2" fill="#f10000" stroke="#333" stroke-width="5.4"/>
<rect x="2017.8" y="834.7" width="79.4" height="78.6" fill="#277cbd" stroke="#333" stroke-width="5.4"/>
<path d="M2100.80 742.50V916.00" stroke="#999999" stroke-width="2.40"/>
<path d="M2015.00 830.60H2100.00" stroke="#9a9a9a" stroke-width="2.00"/>
</g>
<g font-family="Liberation Sans, Arial, Helvetica, sans-serif">
<text transform="translate(517.800,91.500) scale(1.0000,1.0613)" font-size="44" fill="#1a1a1a" stroke="#1a1a1a" stroke-width="0.50">Female</text>
<text transform="translate(1443.124,91.500) scale(1.0191,1.0581)" font-size="44" fill="#1a1a1a" stroke="#1a1a1a" stroke-width="0.50">Male</text>
<text transform="translate(106.587,216.000) scale(1.0484,1.0484)" font-size="45" fill="#4d4d4d" stroke="#4d4d4d" stroke-width="0.50">5</text>
<text transform="translate(105.539,558.430) scale(1.0484,1.0484)" font-size="45" fill="#4d4d4d" stroke="#4d4d4d" stroke-width="0.50">4</text>
<text transform="translate(106.587,900.860) scale(1.0484,1.0484)" font-size="45" fill="#4d4d4d" stroke="#4d4d4d" stroke-width="0.50">3</text>
<text transform="translate(106.587,1243.290) scale(1.0484,1.0484)" font-size="45" fill="#4d4d4d" stroke="#4d4d4d" stroke-width="0.50">2</text>
<text transform="translate(333.300,1540.200) scale(1.0205,1.0677)" font-size="45" fill="#4d4d4d" stroke="#4d4d4d" stroke-width="0.50">Angry</text>
<text transform="translate(724.222,1540.200) scale(0.9944,1.0677)" font-size="45" fill="#4d4d4d" stroke="#4d4d4d" stroke-width="0.50">Happy</text>
<text transform="translate(1232.700,1540.200) scale(1.0205,1.0677)" font-size="45" fill="#4d4d4d" stroke="#4d4d4d" stroke-width="0.50">Angry</text>
<text transform="translate(1623.110,1540.200) scale(0.9976,1.0677)" font-size="45" fill="#4d4d4d" stroke="#4d4d4d" stroke-width="0.50">Happy</text>
<text transform="translate(902.939,1606.400) scale(1.0121,1.0342)" font-size="55" fill="#000" stroke="#000" stroke-width="0.50">Expression</text>
<text transform="translate(62.100,1040.873) rotate(-90) scale(1.0146,0.9868)" font-size="55" fill="#000" stroke="#000" stroke-width="0.50">Expression Ratings</text>
<text transform="translate(2012.480,721.700) scale(1.0199,1.0711)" font-size="55" fill="#000" stroke="#000" stroke-width="0.50">Target</text>
<text transform="translate(2111.274,802.500) scale(1.0065,1.0419)" font-size="45" fill="#000" stroke="#000" stroke-width="0.50">Familiar</text>
<text transform="translate(2112.289,889.900) scale(1.0035,1.0710)" font-size="45" fill="#000" stroke="#000" stroke-width="0.50">Unfamiliar</text>
</g>
</svg>
</body></html>
